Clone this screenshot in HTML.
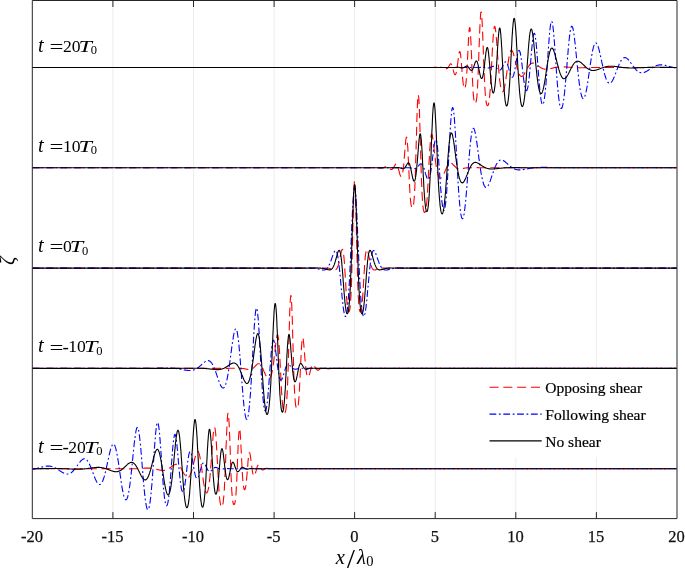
<!DOCTYPE html><html><head><meta charset="utf-8"><title>Wave focusing</title><style>
html,body{margin:0;padding:0;background:#fff}
#fig{position:relative;width:685px;height:568px;overflow:hidden;background:#fff}
</style></head><body><div id="fig">
<svg width="685" height="568" viewBox="0 0 685 568" style="position:absolute;left:0;top:0">
<rect width="685" height="568" fill="#fff"/>
<line x1="112.9" x2="112.9" y1="0.5" y2="518.6" stroke="#ededed" stroke-width="1"/>
<line x1="193.5" x2="193.5" y1="0.5" y2="518.6" stroke="#ededed" stroke-width="1"/>
<line x1="274.1" x2="274.1" y1="0.5" y2="518.6" stroke="#ededed" stroke-width="1"/>
<line x1="354.6" x2="354.6" y1="0.5" y2="518.6" stroke="#ededed" stroke-width="1"/>
<line x1="435.2" x2="435.2" y1="0.5" y2="518.6" stroke="#ededed" stroke-width="1"/>
<line x1="515.8" x2="515.8" y1="0.5" y2="518.6" stroke="#ededed" stroke-width="1"/>
<line x1="596.4" x2="596.4" y1="0.5" y2="518.6" stroke="#ededed" stroke-width="1"/>
<path d="M32.5,67.5L421.3,67.5L421.5,67.5L421.8,67.5L422.0,67.5L422.3,67.5L422.5,67.5L422.7,67.5L423.0,67.5L423.2,67.5L423.5,67.5L423.7,67.5L423.9,67.5L424.2,67.5L424.4,67.5L424.7,67.5L424.9,67.5L425.2,67.5L425.4,67.5L425.6,67.5L425.9,67.5L426.1,67.5L426.4,67.5L431.7,67.5L431.9,67.5L432.2,67.5L432.4,67.5L432.6,67.5L432.9,67.5L433.1,67.5L433.4,67.4L433.6,67.4L433.9,67.4L434.1,67.4L434.3,67.4L434.6,67.4L434.8,67.4L435.1,67.4L435.3,67.4L435.5,67.4L435.8,67.4L436.0,67.4L436.3,67.4L436.5,67.4L436.8,67.4L437.0,67.5L437.2,67.5L437.5,67.5L437.7,67.5L438.0,67.5L438.2,67.5L438.9,67.5L439.2,67.5L439.4,67.5L439.7,67.5L439.9,67.5L440.1,67.4L440.4,67.4L440.6,67.4L440.9,67.3L441.1,67.3L441.3,67.2L441.6,67.2L441.8,67.1L442.1,67.1L442.3,67.1L442.6,67.1L442.8,67.1L443.0,67.1L443.3,67.2L443.5,67.3L443.8,67.3L444.0,67.5L444.2,67.6L444.5,67.7L444.7,67.9L445.0,68.0L445.2,68.2L445.5,68.3L445.7,68.5L445.9,68.6L446.2,68.6L446.4,68.7L446.7,68.7L446.9,68.6L447.1,68.5L447.4,68.3L447.6,68.1L447.9,67.8L448.1,67.5L448.4,67.1L448.6,66.7L448.8,66.3L449.1,65.8L449.3,65.4L449.6,65.0L449.8,64.6L450.0,64.2L450.3,64.0L450.5,63.8L450.8,63.8L451.0,63.9L451.3,64.1L451.5,64.4L451.7,64.9L452.0,65.5L452.2,66.3L452.5,67.1L452.7,68.0L452.9,69.0L453.2,69.9L453.4,70.9L453.7,71.8L453.9,72.6L454.2,73.3L454.4,73.9L454.6,74.4L454.9,74.6L455.1,74.7L455.4,74.7L455.6,74.4L455.8,73.9L456.1,73.2L456.3,72.3L456.6,71.2L456.8,69.8L457.1,68.3L457.3,66.6L457.5,64.7L457.8,62.8L458.0,60.8L458.3,58.8L458.5,56.9L458.7,55.1L459.0,53.7L459.2,52.5L459.5,51.8L459.7,51.5L460.0,51.7L460.2,52.5L460.4,53.7L460.7,55.5L460.9,57.7L461.2,60.3L461.4,63.2L461.6,66.2L461.9,69.3L462.1,72.4L462.4,75.4L462.6,78.1L462.9,80.6L463.1,82.7L463.3,84.5L463.6,86.0L463.8,87.1L464.1,87.9L464.3,88.4L464.5,88.6L464.8,88.5L465.0,88.1L465.3,87.3L465.5,86.2L465.8,84.8L466.0,82.9L466.2,80.5L466.5,77.6L466.7,74.2L467.0,70.3L467.2,66.0L467.4,61.2L467.7,56.2L467.9,51.1L468.2,46.1L468.4,41.3L468.7,36.9L468.9,33.2L469.1,30.3L469.4,28.4L469.6,27.5L469.9,27.8L470.1,29.2L470.3,31.8L470.6,35.4L470.8,39.9L471.1,45.2L471.3,51.0L471.6,57.1L471.8,63.2L472.0,69.3L472.3,75.1L472.5,80.5L472.8,85.3L473.0,89.5L473.2,93.1L473.5,96.0L473.7,98.3L474.0,100.1L474.2,101.4L474.5,102.3L474.7,102.9L474.9,103.3L475.2,103.4L475.4,103.3L475.7,103.1L475.9,102.6L476.1,101.7L476.4,100.5L476.6,98.8L476.9,96.6L477.1,93.7L477.4,90.2L477.6,86.0L477.8,81.1L478.1,75.5L478.3,69.4L478.6,62.8L478.8,55.9L479.0,48.9L479.3,42.0L479.5,35.3L479.8,29.2L480.0,23.8L480.3,19.2L480.5,15.6L480.7,13.2L481.0,12.0L481.2,12.0L481.5,13.2L481.7,15.6L481.9,19.0L482.2,23.4L482.4,28.6L482.7,34.4L482.9,40.6L483.2,47.1L483.4,53.7L483.6,60.2L483.9,66.4L484.1,72.3L484.4,77.8L484.6,82.7L484.8,87.1L485.1,91.0L485.3,94.3L485.6,97.1L485.8,99.3L486.0,101.2L486.3,102.6L486.5,103.8L486.8,104.6L487.0,105.2L487.3,105.6L487.5,105.7L487.7,105.7L488.0,105.4L488.2,105.0L488.5,104.3L488.7,103.3L488.9,102.0L489.2,100.4L489.4,98.4L489.7,96.1L489.9,93.3L490.2,90.2L490.4,86.7L490.6,82.9L490.9,78.7L491.1,74.3L491.4,69.7L491.6,65.0L491.8,60.3L492.1,55.5L492.3,50.9L492.6,46.5L492.8,42.4L493.1,38.6L493.3,35.3L493.5,32.4L493.8,30.1L494.0,28.3L494.3,27.0L494.5,26.4L494.7,26.3L495.0,26.8L495.2,27.8L495.5,29.2L495.7,31.1L496.0,33.4L496.2,36.1L496.4,39.0L496.7,42.1L496.9,45.4L497.2,48.7L497.4,52.2L497.6,55.6L497.9,59.0L498.1,62.3L498.4,65.4L498.6,68.5L498.9,71.3L499.1,74.0L499.3,76.5L499.6,78.8L499.8,80.9L500.1,82.8L500.3,84.5L500.5,86.1L500.8,87.4L501.0,88.5L501.3,89.5L501.5,90.2L501.8,90.9L502.0,91.3L502.2,91.6L502.5,91.8L502.7,91.7L503.0,91.6L503.2,91.3L503.4,90.8L503.7,90.3L503.9,89.5L504.2,88.7L504.4,87.7L504.7,86.6L504.9,85.4L505.1,84.0L505.4,82.6L505.6,81.0L505.9,79.4L506.1,77.7L506.3,76.0L506.6,74.2L506.8,72.4L507.1,70.5L507.3,68.7L507.6,66.9L507.8,65.1L508.0,63.4L508.3,61.7L508.5,60.1L508.8,58.6L509.0,57.2L509.2,55.9L509.5,54.7L509.7,53.7L510.0,52.8L510.2,52.0L510.5,51.3L510.7,50.8L510.9,50.5L511.2,50.2L511.4,50.1L511.7,50.2L511.9,50.3L512.1,50.6L512.4,51.0L512.6,51.4L512.9,52.0L513.1,52.7L513.4,53.4L513.6,54.2L513.8,55.1L514.1,56.0L514.3,56.9L514.6,57.9L514.8,58.9L515.0,59.9L515.3,61.0L515.5,62.0L515.8,63.0L516.0,64.0L516.3,65.0L516.5,66.0L516.7,66.9L517.0,67.8L517.2,68.7L517.5,69.5L517.7,70.3L517.9,71.1L518.2,71.8L518.4,72.4L518.7,73.0L518.9,73.6L519.2,74.1L519.4,74.6L519.6,75.0L519.9,75.3L520.1,75.6L520.4,75.9L520.6,76.1L520.8,76.2L521.1,76.3L521.3,76.4L521.6,76.4L521.8,76.4L522.1,76.3L522.3,76.2L522.5,76.0L522.8,75.9L523.0,75.6L523.3,75.4L523.5,75.1L523.7,74.8L524.0,74.4L524.2,74.1L524.5,73.7L524.7,73.3L525.0,72.9L525.2,72.5L525.4,72.0L525.7,71.6L525.9,71.1L526.2,70.6L526.4,70.2L526.6,69.7L526.9,69.3L527.1,68.8L527.4,68.4L527.6,68.0L527.9,67.5L528.1,67.1L528.3,66.7L528.6,66.4L528.8,66.0L529.1,65.7L529.3,65.3L529.5,65.0L529.8,64.7L530.0,64.5L530.3,64.2L530.5,64.0L530.8,63.8L531.0,63.7L531.2,63.5L531.5,63.4L531.7,63.3L532.0,63.2L532.2,63.1L532.4,63.1L532.7,63.1L532.9,63.1L533.2,63.1L533.4,63.1L533.7,63.1L533.9,63.2L534.1,63.3L534.4,63.4L534.6,63.5L534.9,63.6L535.1,63.7L535.3,63.8L535.6,64.0L535.8,64.1L536.1,64.3L536.3,64.5L536.6,64.6L536.8,64.8L537.0,65.0L537.3,65.2L537.5,65.3L537.8,65.5L538.0,65.7L538.2,65.9L538.5,66.1L538.7,66.3L539.0,66.4L539.2,66.6L539.5,66.8L539.7,66.9L539.9,67.1L540.2,67.3L540.4,67.4L540.7,67.6L540.9,67.7L541.1,67.9L541.4,68.0L541.6,68.1L541.9,68.2L542.1,68.4L542.4,68.5L542.6,68.6L542.8,68.7L543.1,68.7L543.3,68.8L543.6,68.9L543.8,69.0L544.0,69.0L544.3,69.1L544.5,69.1L544.8,69.2L545.0,69.2L545.3,69.2L545.5,69.2L545.7,69.3L546.0,69.3L546.2,69.3L546.5,69.3L546.7,69.3L546.9,69.2L547.2,69.2L547.4,69.2L547.7,69.2L547.9,69.1L548.1,69.1L548.4,69.1L548.6,69.0L548.9,69.0L549.1,68.9L549.4,68.9L549.6,68.8L549.8,68.8L550.1,68.7L550.3,68.7L550.6,68.6L550.8,68.5L551.0,68.5L551.3,68.4L551.5,68.4L551.8,68.3L552.0,68.2L552.3,68.2L552.5,68.1L552.7,68.0L553.0,68.0L553.2,67.9L553.5,67.9L553.7,67.8L553.9,67.7L554.2,67.7L554.4,67.6L554.7,67.6L554.9,67.5L555.2,67.5L555.4,67.4L555.6,67.4L555.9,67.3L556.1,67.3L556.4,67.3L556.6,67.2L556.8,67.2L557.1,67.2L557.3,67.1L557.6,67.1L557.8,67.1L558.1,67.0L558.3,67.0L558.5,67.0L558.8,67.0L559.0,67.0L559.3,66.9L559.5,66.9L559.7,66.9L560.0,66.9L560.2,66.9L560.5,66.9L560.7,66.9L561.0,66.9L561.2,66.9L561.4,66.9L561.7,66.9L561.9,66.9L562.2,66.9L562.4,66.9L562.6,66.9L562.9,66.9L563.1,66.9L563.4,66.9L563.6,66.9L563.9,66.9L564.1,66.9L564.3,66.9L564.6,66.9L564.8,66.9L565.1,67.0L565.3,67.0L565.5,67.0L565.8,67.0L566.0,67.0L566.3,67.0L566.5,67.1L566.8,67.1L567.0,67.1L567.2,67.1L567.5,67.1L567.7,67.1L568.0,67.2L568.2,67.2L568.4,67.2L568.7,67.2L568.9,67.2L569.2,67.3L569.4,67.3L569.7,67.3L569.9,67.3L570.1,67.3L570.4,67.3L570.6,67.4L570.9,67.4L571.1,67.4L571.3,67.4L571.6,67.4L571.8,67.4L572.1,67.5L572.3,67.5L572.6,67.5L572.8,67.5L573.0,67.5L573.3,67.5L573.5,67.5L573.8,67.5L574.0,67.6L574.2,67.6L574.5,67.6L574.7,67.6L575.0,67.6L575.2,67.6L575.5,67.6L575.7,67.6L575.9,67.6L576.2,67.6L576.4,67.6L576.7,67.6L576.9,67.6L577.1,67.6L577.4,67.7L577.6,67.7L577.9,67.7L578.1,67.7L578.4,67.7L578.6,67.7L578.8,67.7L579.1,67.7L579.3,67.7L579.6,67.7L579.8,67.7L580.0,67.7L580.3,67.7L580.5,67.7L580.8,67.7L581.0,67.7L581.3,67.7L581.5,67.7L581.7,67.7L582.0,67.7L582.2,67.7L582.5,67.7L582.7,67.7L582.9,67.7L583.2,67.7L583.4,67.7L583.7,67.7L583.9,67.7L584.2,67.7L584.4,67.6L584.6,67.6L584.9,67.6L585.1,67.6L585.4,67.6L585.6,67.6L585.8,67.6L586.1,67.6L586.3,67.6L586.6,67.6L586.8,67.6L587.1,67.6L587.3,67.6L587.5,67.6L587.8,67.6L588.0,67.6L588.3,67.6L588.5,67.6L588.7,67.6L589.0,67.6L589.2,67.6L589.5,67.6L589.7,67.6L590.0,67.6L590.2,67.5L590.4,67.5L590.7,67.5L590.9,67.5L591.2,67.5L591.4,67.5L591.6,67.5L597.0,67.5L597.2,67.5L597.4,67.5L597.7,67.5L597.9,67.5L598.2,67.5L598.4,67.5L598.7,67.5L598.9,67.5L599.1,67.5L599.4,67.5L599.6,67.5L599.9,67.5L600.1,67.5L600.3,67.5L600.6,67.4L600.8,67.4L601.1,67.4L601.3,67.4L601.6,67.4L601.8,67.4L602.0,67.4L602.3,67.4L602.5,67.4L602.8,67.4L603.0,67.4L603.2,67.4L603.5,67.4L603.7,67.4L604.0,67.4L604.2,67.4L604.5,67.4L604.7,67.4L604.9,67.4L605.2,67.4L605.4,67.4L605.7,67.4L605.9,67.4L606.1,67.4L606.4,67.4L606.6,67.4L606.9,67.5L607.1,67.5L607.4,67.5L607.6,67.5L607.8,67.5L608.1,67.5L608.3,67.5L608.6,67.5L608.8,67.5L609.0,67.5L609.3,67.5L609.5,67.5L609.8,67.5L610.0,67.5L610.3,67.5L610.5,67.5L676.7,67.5" fill="none" stroke="#ff0000" stroke-width="1.1" stroke-dasharray="9.1 4.7" stroke-linejoin="round"/>
<path d="M32.5,167.8L358.0,167.8L358.2,167.8L358.5,167.8L358.7,167.8L358.9,167.8L359.2,167.8L359.4,167.8L359.7,167.8L359.9,167.7L360.2,167.7L360.4,167.7L360.6,167.7L360.9,167.7L361.1,167.7L361.4,167.7L361.6,167.7L361.8,167.7L362.1,167.7L362.3,167.8L362.6,167.8L362.8,167.8L363.1,167.8L363.3,167.8L363.5,167.8L363.8,167.8L364.0,167.8L365.7,167.8L366.0,167.8L366.2,167.8L366.4,167.8L366.7,167.8L366.9,167.8L367.2,167.8L367.4,167.8L367.6,167.8L367.9,167.8L368.1,167.8L368.4,167.8L368.6,167.8L368.9,167.8L369.1,167.8L369.3,167.8L369.6,167.8L369.8,167.8L370.3,167.8L370.5,167.8L370.8,167.8L371.0,167.8L371.3,167.8L371.5,167.7L371.8,167.7L372.0,167.7L372.2,167.7L372.5,167.7L372.7,167.7L373.0,167.7L373.2,167.7L373.4,167.7L373.7,167.6L373.9,167.6L374.2,167.6L374.4,167.6L374.7,167.6L374.9,167.6L375.1,167.6L375.4,167.6L375.6,167.6L375.9,167.6L376.1,167.6L376.3,167.7L376.6,167.7L376.8,167.7L377.1,167.7L377.3,167.8L377.6,167.8L377.8,167.8L378.0,167.9L378.3,167.9L378.5,167.9L378.8,168.0L379.0,168.0L379.2,168.1L379.5,168.1L379.7,168.1L380.0,168.2L380.2,168.2L380.5,168.2L380.7,168.2L380.9,168.2L381.2,168.2L381.4,168.2L381.7,168.2L381.9,168.1L382.1,168.1L382.4,168.0L382.6,167.9L382.9,167.9L383.1,167.8L383.4,167.7L383.6,167.6L383.8,167.5L384.1,167.4L384.3,167.3L384.6,167.1L384.8,167.0L385.0,167.0L385.3,166.9L385.5,166.8L385.8,166.8L386.0,166.7L386.3,166.7L386.5,166.7L386.7,166.8L387.0,166.8L387.2,166.9L387.5,167.0L387.7,167.1L387.9,167.3L388.2,167.5L388.4,167.7L388.7,167.9L388.9,168.1L389.2,168.3L389.4,168.5L389.6,168.7L389.9,168.9L390.1,169.1L390.4,169.2L390.6,169.4L390.8,169.5L391.1,169.5L391.3,169.5L391.6,169.5L391.8,169.5L392.1,169.3L392.3,169.2L392.5,169.0L392.8,168.7L393.0,168.4L393.3,168.1L393.5,167.7L393.7,167.3L394.0,166.9L394.2,166.4L394.5,166.0L394.7,165.6L395.0,165.2L395.2,164.8L395.4,164.5L395.7,164.2L395.9,164.1L396.2,164.0L396.4,164.1L396.6,164.2L396.9,164.5L397.1,164.9L397.4,165.4L397.6,166.0L397.9,166.7L398.1,167.6L398.3,168.4L398.6,169.4L398.8,170.3L399.1,171.3L399.3,172.2L399.5,173.1L399.8,174.0L400.0,174.7L400.3,175.3L400.5,175.9L400.8,176.2L401.0,176.5L401.2,176.5L401.5,176.4L401.7,176.1L402.0,175.6L402.2,174.9L402.4,173.9L402.7,172.7L402.9,171.2L403.2,169.5L403.4,167.4L403.7,165.1L403.9,162.6L404.1,159.8L404.4,156.8L404.6,153.7L404.9,150.6L405.1,147.6L405.3,144.7L405.6,142.1L405.8,140.0L406.1,138.3L406.3,137.3L406.6,137.1L406.8,137.6L407.0,138.9L407.3,141.1L407.5,144.1L407.8,147.8L408.0,152.1L408.2,156.9L408.5,162.1L408.7,167.5L409.0,173.0L409.2,178.3L409.5,183.4L409.7,188.0L409.9,192.2L410.2,195.9L410.4,199.0L410.7,201.6L410.9,203.6L411.1,205.1L411.4,206.2L411.6,207.0L411.9,207.5L412.1,207.7L412.4,207.8L412.6,207.6L412.8,207.3L413.1,206.7L413.3,205.8L413.6,204.5L413.8,202.7L414.0,200.2L414.3,197.1L414.5,193.1L414.8,188.3L415.0,182.7L415.3,176.2L415.5,168.9L415.7,160.9L416.0,152.5L416.2,143.8L416.5,135.1L416.7,126.6L416.9,118.6L417.2,111.4L417.4,105.3L417.7,100.4L417.9,96.9L418.2,95.1L418.4,94.9L418.6,96.3L418.9,99.3L419.1,103.8L419.4,109.6L419.6,116.5L419.8,124.2L420.1,132.5L420.3,141.2L420.6,149.9L420.8,158.4L421.0,166.6L421.3,174.3L421.5,181.2L421.8,187.4L422.0,192.8L422.3,197.4L422.5,201.2L422.7,204.2L423.0,206.6L423.2,208.5L423.5,209.9L423.7,210.9L423.9,211.6L424.2,212.1L424.4,212.3L424.7,212.4L424.9,212.3L425.2,212.1L425.4,211.6L425.6,210.8L425.9,209.8L426.1,208.4L426.4,206.6L426.6,204.4L426.8,201.7L427.1,198.7L427.3,195.2L427.6,191.3L427.8,187.0L428.1,182.5L428.3,177.8L428.5,172.9L428.8,168.1L429.0,163.3L429.3,158.6L429.5,154.2L429.7,150.1L430.0,146.4L430.2,143.2L430.5,140.4L430.7,138.1L431.0,136.4L431.2,135.1L431.4,134.4L431.7,134.2L431.9,134.4L432.2,135.0L432.4,136.0L432.6,137.3L432.9,138.8L433.1,140.6L433.4,142.5L433.6,144.6L433.9,146.7L434.1,148.9L434.3,151.1L434.6,153.3L434.8,155.4L435.1,157.5L435.3,159.5L435.5,161.4L435.8,163.2L436.0,164.9L436.3,166.5L436.5,167.9L436.8,169.3L437.0,170.5L437.2,171.7L437.5,172.7L437.7,173.7L438.0,174.5L438.2,175.2L438.4,175.9L438.7,176.4L438.9,176.9L439.2,177.3L439.4,177.6L439.7,177.9L439.9,178.0L440.1,178.1L440.4,178.2L440.6,178.2L440.9,178.1L441.1,178.0L441.3,177.8L441.6,177.6L441.8,177.4L442.1,177.1L442.3,176.7L442.6,176.3L442.8,175.9L443.0,175.5L443.3,175.1L443.5,174.6L443.8,174.1L444.0,173.5L444.2,173.0L444.5,172.5L444.7,171.9L445.0,171.3L445.2,170.8L445.5,170.2L445.7,169.6L445.9,169.1L446.2,168.5L446.4,168.0L446.7,167.5L446.9,167.0L447.1,166.5L447.4,166.0L447.6,165.6L447.9,165.2L448.1,164.8L448.4,164.5L448.6,164.2L448.8,163.9L449.1,163.7L449.3,163.5L449.6,163.3L449.8,163.2L450.0,163.1L450.3,163.1L450.5,163.1L450.8,163.1L451.0,163.1L451.3,163.2L451.5,163.3L451.7,163.5L452.0,163.6L452.2,163.8L452.5,164.0L452.7,164.2L452.9,164.5L453.2,164.7L453.4,165.0L453.7,165.2L453.9,165.5L454.2,165.7L454.4,166.0L454.6,166.2L454.9,166.5L455.1,166.7L455.4,167.0L455.6,167.2L455.8,167.4L456.1,167.6L456.3,167.8L456.6,168.0L456.8,168.1L457.1,168.3L457.3,168.4L457.5,168.5L457.8,168.6L458.0,168.7L458.3,168.8L458.5,168.9L458.7,168.9L459.0,169.0L459.2,169.0L459.5,169.0L459.7,169.0L460.0,169.0L460.2,169.0L460.4,169.0L460.7,169.0L460.9,168.9L461.2,168.9L461.4,168.8L461.6,168.8L461.9,168.7L462.1,168.7L462.4,168.6L462.6,168.6L462.9,168.5L463.1,168.5L463.3,168.4L463.6,168.4L463.8,168.3L464.1,168.3L464.3,168.2L464.5,168.2L464.8,168.1L465.0,168.1L465.3,168.0L465.5,168.0L465.8,168.0L466.0,167.9L466.2,167.9L466.5,167.9L466.7,167.9L467.0,167.8L467.2,167.8L467.4,167.8L467.7,167.8L467.9,167.8L468.2,167.8L468.4,167.8L468.7,167.8L468.9,167.7L469.1,167.7L469.4,167.7L469.6,167.7L469.9,167.7L470.1,167.7L470.3,167.7L470.6,167.7L470.8,167.7L471.1,167.7L471.3,167.7L471.6,167.7L471.8,167.7L472.0,167.7L472.3,167.6L472.5,167.6L472.8,167.6L473.0,167.6L473.2,167.6L473.5,167.6L473.7,167.6L474.0,167.6L474.2,167.6L474.5,167.6L474.7,167.6L474.9,167.6L475.2,167.6L475.4,167.6L475.7,167.6L475.9,167.6L476.1,167.6L476.4,167.6L476.6,167.6L476.9,167.6L477.1,167.6L477.4,167.6L477.6,167.6L477.8,167.6L478.1,167.6L478.3,167.6L478.6,167.7L478.8,167.7L479.0,167.7L479.3,167.7L479.5,167.7L479.8,167.7L480.0,167.7L480.3,167.7L480.5,167.7L480.7,167.8L481.0,167.8L481.2,167.8L481.5,167.8L481.7,167.8L676.7,167.8" fill="none" stroke="#ff0000" stroke-width="1.1" stroke-dasharray="9.1 4.7" stroke-linejoin="round"/>
<path d="M32.5,268.1L310.1,268.1L310.4,268.1L310.6,268.1L310.9,268.1L311.1,268.1L311.3,268.1L311.6,268.1L311.8,268.1L312.1,268.1L312.3,268.1L312.6,268.1L312.8,268.1L313.0,268.1L313.3,268.1L313.5,268.1L313.8,268.1L314.0,268.1L314.2,268.1L314.5,268.0L314.7,268.0L315.0,268.0L315.2,268.0L315.5,268.0L315.7,268.0L315.9,268.0L316.2,268.0L316.4,268.0L316.7,268.0L316.9,268.0L317.1,268.0L317.4,268.0L317.6,268.0L317.9,268.0L318.1,268.0L318.4,268.0L318.6,268.0L318.8,268.0L319.1,268.0L319.3,268.0L319.6,268.0L319.8,268.0L320.0,268.0L320.3,268.0L320.5,268.0L320.8,268.0L321.0,268.0L321.3,268.0L321.5,268.0L321.7,268.0L322.0,268.0L322.2,268.0L322.5,268.0L322.7,268.0L322.9,268.0L323.2,268.0L323.4,268.0L323.7,268.0L323.9,268.0L324.2,268.0L324.4,268.0L324.6,268.0L324.9,268.0L325.1,268.0L325.4,268.0L325.6,268.0L325.8,268.0L326.1,268.0L326.3,268.0L326.6,268.0L326.8,268.0L327.1,268.0L327.3,268.1L327.5,268.1L327.8,268.1L328.0,268.1L328.3,268.1L328.5,268.2L328.7,268.2L329.0,268.3L329.2,268.3L329.5,268.4L329.7,268.4L330.0,268.5L330.2,268.5L330.4,268.6L330.7,268.7L330.9,268.8L331.2,268.8L331.4,268.9L331.6,269.0L331.9,269.1L332.1,269.2L332.4,269.3L332.6,269.4L332.9,269.5L333.1,269.6L333.3,269.7L333.6,269.8L333.8,269.9L334.1,269.9L334.3,270.0L334.5,270.0L334.8,270.0L335.0,270.0L335.3,269.9L335.5,269.8L335.8,269.7L336.0,269.5L336.2,269.3L336.5,269.0L336.7,268.7L337.0,268.3L337.2,267.9L337.4,267.4L337.7,266.8L337.9,266.1L338.2,265.4L338.4,264.6L338.7,263.8L338.9,262.8L339.1,261.8L339.4,260.7L339.6,259.6L339.9,258.5L340.1,257.3L340.3,256.1L340.6,254.9L340.8,253.7L341.1,252.7L341.3,251.7L341.6,250.8L341.8,250.1L342.0,249.6L342.3,249.4L342.5,249.4L342.8,249.8L343.0,250.6L343.2,251.7L343.5,253.3L343.7,255.2L344.0,257.6L344.2,260.4L344.5,263.6L344.7,267.1L344.9,270.9L345.2,274.9L345.4,279.0L345.7,283.1L345.9,287.2L346.1,291.2L346.4,294.9L346.6,298.3L346.9,301.4L347.1,304.0L347.4,306.3L347.6,308.1L347.8,309.6L348.1,310.6L348.3,311.3L348.6,311.8L348.8,311.9L349.0,311.8L349.3,311.4L349.5,310.7L349.8,309.7L350.0,308.2L350.3,306.1L350.5,303.4L350.7,299.8L351.0,295.3L351.2,289.8L351.5,283.3L351.7,275.6L351.9,267.0L352.2,257.4L352.4,247.3L352.7,236.7L352.9,226.0L353.2,215.7L353.4,206.0L353.6,197.5L353.9,190.4L354.1,185.2L354.4,181.9L354.6,180.8L354.8,181.9L355.1,185.2L355.3,190.4L355.6,197.5L355.8,206.0L356.0,215.7L356.3,226.0L356.5,236.7L356.8,247.3L357.0,257.4L357.3,267.0L357.5,275.6L357.7,283.3L358.0,289.8L358.2,295.3L358.5,299.8L358.7,303.4L358.9,306.1L359.2,308.2L359.4,309.7L359.7,310.7L359.9,311.4L360.2,311.8L360.4,311.9L360.6,311.8L360.9,311.3L361.1,310.6L361.4,309.6L361.6,308.1L361.8,306.3L362.1,304.0L362.3,301.4L362.6,298.3L362.8,294.9L363.1,291.2L363.3,287.2L363.5,283.1L363.8,279.0L364.0,274.9L364.3,270.9L364.5,267.1L364.7,263.6L365.0,260.4L365.2,257.6L365.5,255.2L365.7,253.3L366.0,251.7L366.2,250.6L366.4,249.8L366.7,249.4L366.9,249.4L367.2,249.6L367.4,250.1L367.6,250.8L367.9,251.7L368.1,252.7L368.4,253.7L368.6,254.9L368.9,256.1L369.1,257.3L369.3,258.5L369.6,259.6L369.8,260.7L370.1,261.8L370.3,262.8L370.5,263.8L370.8,264.6L371.0,265.4L371.3,266.1L371.5,266.8L371.8,267.4L372.0,267.9L372.2,268.3L372.5,268.7L372.7,269.0L373.0,269.3L373.2,269.5L373.4,269.7L373.7,269.8L373.9,269.9L374.2,270.0L374.4,270.0L374.7,270.0L374.9,270.0L375.1,269.9L375.4,269.9L375.6,269.8L375.9,269.7L376.1,269.6L376.3,269.5L376.6,269.4L376.8,269.3L377.1,269.2L377.3,269.1L377.6,269.0L377.8,268.9L378.0,268.8L378.3,268.8L378.5,268.7L378.8,268.6L379.0,268.5L379.2,268.5L379.5,268.4L379.7,268.4L380.0,268.3L380.2,268.3L380.5,268.2L380.7,268.2L380.9,268.1L381.2,268.1L381.4,268.1L381.7,268.1L381.9,268.1L382.1,268.0L382.4,268.0L382.6,268.0L382.9,268.0L383.1,268.0L383.4,268.0L383.6,268.0L383.8,268.0L384.1,268.0L384.3,268.0L384.6,268.0L384.8,268.0L385.0,268.0L385.3,268.0L385.5,268.0L385.8,268.0L386.0,268.0L386.3,268.0L386.5,268.0L386.7,268.0L387.0,268.0L387.2,268.0L387.5,268.0L387.7,268.0L387.9,268.0L388.2,268.0L388.4,268.0L388.7,268.0L388.9,268.0L389.2,268.0L389.4,268.0L389.6,268.0L389.9,268.0L390.1,268.0L390.4,268.0L390.6,268.0L390.8,268.0L391.1,268.0L391.3,268.0L391.6,268.0L391.8,268.0L392.1,268.0L392.3,268.0L392.5,268.0L392.8,268.0L393.0,268.0L393.3,268.0L393.5,268.0L393.7,268.0L394.0,268.0L394.2,268.0L394.5,268.0L394.7,268.0L395.0,268.1L395.2,268.1L395.4,268.1L395.7,268.1L395.9,268.1L396.2,268.1L396.4,268.1L396.6,268.1L396.9,268.1L397.1,268.1L397.4,268.1L397.6,268.1L397.9,268.1L398.1,268.1L398.3,268.1L398.6,268.1L398.8,268.1L399.1,268.1L676.7,268.1" fill="none" stroke="#ff0000" stroke-width="1.1" stroke-dasharray="9.1 4.7" stroke-linejoin="round"/>
<path d="M32.5,368.4L227.5,368.4L227.7,368.4L228.0,368.4L228.2,368.4L228.5,368.4L228.7,368.3L228.9,368.3L229.2,368.3L229.4,368.3L229.7,368.3L229.9,368.3L230.2,368.3L230.4,368.3L230.6,368.3L230.9,368.2L231.1,368.2L231.4,368.2L231.6,368.2L231.8,368.2L232.1,368.2L232.3,368.2L232.6,368.2L232.8,368.2L233.1,368.2L233.3,368.2L233.5,368.2L233.8,368.2L234.0,368.2L234.3,368.2L234.5,368.2L234.7,368.2L235.0,368.2L235.2,368.2L235.5,368.2L235.7,368.2L236.0,368.2L236.2,368.2L236.4,368.2L236.7,368.2L236.9,368.2L237.2,368.3L237.4,368.3L237.6,368.3L237.9,368.3L238.1,368.3L238.4,368.3L238.6,368.3L238.9,368.3L239.1,368.3L239.3,368.3L239.6,368.3L239.8,368.3L240.1,368.3L240.3,368.3L240.5,368.4L240.8,368.4L241.0,368.4L241.3,368.4L241.5,368.4L241.8,368.4L242.0,368.4L242.2,368.4L242.5,368.5L242.7,368.5L243.0,368.5L243.2,368.5L243.4,368.6L243.7,368.6L243.9,368.6L244.2,368.7L244.4,368.7L244.7,368.8L244.9,368.8L245.1,368.9L245.4,368.9L245.6,369.0L245.9,369.0L246.1,369.1L246.3,369.1L246.6,369.2L246.8,369.2L247.1,369.3L247.3,369.3L247.6,369.4L247.8,369.4L248.0,369.5L248.3,369.5L248.5,369.6L248.8,369.6L249.0,369.6L249.2,369.6L249.5,369.6L249.7,369.6L250.0,369.6L250.2,369.6L250.5,369.5L250.7,369.5L250.9,369.4L251.2,369.3L251.4,369.2L251.7,369.1L251.9,369.0L252.1,368.9L252.4,368.7L252.6,368.6L252.9,368.4L253.1,368.2L253.4,368.0L253.6,367.8L253.8,367.6L254.1,367.3L254.3,367.1L254.6,366.8L254.8,366.6L255.0,366.3L255.3,366.1L255.5,365.8L255.8,365.6L256.0,365.3L256.3,365.1L256.5,364.8L256.7,364.6L257.0,364.4L257.2,364.2L257.5,364.1L257.7,363.9L257.9,363.8L258.2,363.7L258.4,363.7L258.7,363.7L258.9,363.7L259.2,363.7L259.4,363.8L259.6,363.9L259.9,364.1L260.1,364.3L260.4,364.5L260.6,364.8L260.8,365.1L261.1,365.4L261.3,365.8L261.6,366.2L261.8,366.6L262.1,367.1L262.3,367.6L262.5,368.1L262.8,368.6L263.0,369.1L263.3,369.7L263.5,370.2L263.7,370.8L264.0,371.4L264.2,371.9L264.5,372.5L264.7,373.1L265.0,373.6L265.2,374.1L265.4,374.7L265.7,375.2L265.9,375.7L266.2,376.1L266.4,376.5L266.6,376.9L266.9,377.3L267.1,377.7L267.4,378.0L267.6,378.2L267.9,378.4L268.1,378.6L268.3,378.7L268.6,378.8L268.8,378.8L269.1,378.7L269.3,378.6L269.5,378.5L269.8,378.2L270.0,377.9L270.3,377.5L270.5,377.0L270.8,376.5L271.0,375.8L271.2,375.1L271.5,374.3L271.7,373.3L272.0,372.3L272.2,371.1L272.4,369.9L272.7,368.5L272.9,367.1L273.2,365.5L273.4,363.8L273.7,362.0L273.9,360.1L274.1,358.1L274.4,356.0L274.6,353.9L274.9,351.7L275.1,349.5L275.3,347.3L275.6,345.2L275.8,343.1L276.1,341.2L276.3,339.4L276.6,337.9L276.8,336.6L277.0,335.6L277.3,335.0L277.5,334.8L277.8,335.0L278.0,335.7L278.2,337.0L278.5,338.7L278.7,341.0L279.0,343.8L279.2,347.0L279.5,350.7L279.7,354.8L279.9,359.2L280.2,363.9L280.4,368.7L280.7,373.5L280.9,378.4L281.1,383.1L281.4,387.6L281.6,391.9L281.9,395.8L282.1,399.3L282.4,402.3L282.6,405.0L282.8,407.2L283.1,409.0L283.3,410.4L283.6,411.4L283.8,412.2L284.0,412.7L284.3,412.9L284.5,413.0L284.8,412.9L285.0,412.7L285.3,412.2L285.5,411.5L285.7,410.5L286.0,409.1L286.2,407.2L286.5,404.8L286.7,401.8L286.9,398.0L287.2,393.4L287.4,388.0L287.7,381.8L287.9,374.9L288.2,367.2L288.4,359.0L288.6,350.5L288.9,341.8L289.1,333.1L289.4,324.8L289.6,317.1L289.8,310.2L290.1,304.4L290.3,299.9L290.6,296.9L290.8,295.5L291.0,295.7L291.3,297.5L291.5,301.0L291.8,305.9L292.0,312.0L292.3,319.2L292.5,327.2L292.7,335.7L293.0,344.4L293.2,353.1L293.5,361.5L293.7,369.5L293.9,376.8L294.2,383.3L294.4,388.9L294.7,393.7L294.9,397.7L295.2,400.8L295.4,403.3L295.6,405.1L295.9,406.4L296.1,407.3L296.4,407.9L296.6,408.2L296.8,408.4L297.1,408.3L297.3,408.1L297.6,407.6L297.8,406.8L298.1,405.7L298.3,404.2L298.5,402.2L298.8,399.6L299.0,396.5L299.3,392.8L299.5,388.6L299.7,384.0L300.0,378.9L300.2,373.6L300.5,368.1L300.7,362.7L301.0,357.5L301.2,352.7L301.4,348.4L301.7,344.7L301.9,341.7L302.2,339.5L302.4,338.2L302.6,337.7L302.9,337.9L303.1,338.9L303.4,340.6L303.6,342.7L303.9,345.3L304.1,348.2L304.3,351.2L304.6,354.3L304.8,357.4L305.1,360.4L305.3,363.2L305.5,365.7L305.8,368.0L306.0,370.1L306.3,371.8L306.5,373.3L306.8,374.5L307.0,375.5L307.2,376.2L307.5,376.7L307.7,377.0L308.0,377.1L308.2,377.1L308.4,376.8L308.7,376.5L308.9,375.9L309.2,375.3L309.4,374.6L309.7,373.7L309.9,372.8L310.1,371.9L310.4,370.9L310.6,370.0L310.9,369.0L311.1,368.2L311.3,367.3L311.6,366.6L311.8,366.0L312.1,365.5L312.3,365.1L312.6,364.8L312.8,364.7L313.0,364.6L313.3,364.7L313.5,364.8L313.8,365.1L314.0,365.4L314.2,365.8L314.5,366.2L314.7,366.6L315.0,367.0L315.2,367.5L315.5,367.9L315.7,368.3L315.9,368.7L316.2,369.0L316.4,369.3L316.7,369.6L316.9,369.8L317.1,369.9L317.4,370.1L317.6,370.1L317.9,370.1L318.1,370.1L318.4,370.1L318.6,370.0L318.8,369.8L319.1,369.7L319.3,369.5L319.6,369.3L319.8,369.1L320.0,368.9L320.3,368.7L320.5,368.5L320.8,368.3L321.0,368.1L321.3,367.9L321.5,367.7L321.7,367.6L322.0,367.5L322.2,367.4L322.5,367.4L322.7,367.3L322.9,367.3L323.2,367.3L323.4,367.4L323.7,367.4L323.9,367.5L324.2,367.6L324.4,367.6L324.6,367.7L324.9,367.9L325.1,368.0L325.4,368.1L325.6,368.2L325.8,368.3L326.1,368.4L326.3,368.5L326.6,368.5L326.8,368.6L327.1,368.7L327.3,368.7L327.5,368.8L327.8,368.8L328.0,368.8L328.3,368.8L328.5,368.8L328.7,368.8L329.0,368.8L329.2,368.8L329.5,368.7L329.7,368.7L330.0,368.7L330.2,368.6L330.4,368.6L330.7,368.5L330.9,368.5L331.2,368.5L331.4,368.4L331.6,368.4L331.9,368.4L332.1,368.3L332.4,368.3L332.6,368.3L332.9,368.3L333.1,368.2L333.3,368.2L333.6,368.2L333.8,368.2L334.1,368.2L334.3,368.2L334.5,368.2L334.8,368.2L335.0,368.2L335.3,368.2L335.5,368.2L335.8,368.3L336.0,368.3L336.2,368.3L336.5,368.3L336.7,368.3L337.0,368.3L337.2,368.3L337.4,368.3L337.7,368.3L337.9,368.4L338.2,368.4L338.4,368.4L338.7,368.4L338.9,368.4L339.4,368.4L339.6,368.4L339.9,368.4L340.1,368.4L340.3,368.4L340.6,368.4L340.8,368.4L341.1,368.4L341.3,368.4L341.6,368.4L341.8,368.4L342.0,368.4L342.3,368.4L342.5,368.4L342.8,368.4L343.0,368.4L343.2,368.4L343.5,368.4L345.2,368.4L345.4,368.4L345.7,368.4L345.9,368.4L346.1,368.4L346.4,368.4L346.6,368.4L346.9,368.4L347.1,368.3L347.4,368.3L347.6,368.3L347.8,368.3L348.1,368.3L348.3,368.3L348.6,368.3L348.8,368.3L349.0,368.3L349.3,368.3L349.5,368.4L349.8,368.4L350.0,368.4L350.3,368.4L350.5,368.4L350.7,368.4L351.0,368.4L351.2,368.4L676.7,368.4" fill="none" stroke="#ff0000" stroke-width="1.1" stroke-dasharray="9.1 4.7" stroke-linejoin="round"/>
<path d="M32.5,468.7L98.7,468.7L98.9,468.7L99.2,468.7L99.4,468.7L99.7,468.7L99.9,468.7L100.2,468.7L100.4,468.7L100.6,468.7L100.9,468.7L101.1,468.7L101.4,468.7L101.6,468.7L101.8,468.7L102.1,468.7L102.3,468.7L102.6,468.6L102.8,468.6L103.1,468.6L103.3,468.6L103.5,468.6L103.8,468.6L104.0,468.6L104.3,468.6L104.5,468.6L104.7,468.6L105.0,468.6L105.2,468.6L105.5,468.6L105.7,468.6L106.0,468.6L106.2,468.6L106.4,468.6L106.7,468.6L106.9,468.6L107.2,468.6L107.4,468.6L107.6,468.6L107.9,468.6L108.1,468.6L108.4,468.6L108.6,468.6L108.9,468.7L109.1,468.7L109.3,468.7L109.6,468.7L109.8,468.7L110.1,468.7L110.3,468.7L110.5,468.7L110.8,468.7L111.0,468.7L111.3,468.7L111.5,468.7L111.8,468.7L112.0,468.7L112.2,468.7L117.6,468.7L117.8,468.7L118.0,468.7L118.3,468.7L118.5,468.7L118.8,468.7L119.0,468.7L119.2,468.8L119.5,468.8L119.7,468.8L120.0,468.8L120.2,468.8L120.5,468.8L120.7,468.8L120.9,468.8L121.2,468.8L121.4,468.8L121.7,468.8L121.9,468.8L122.1,468.8L122.4,468.8L122.6,468.8L122.9,468.8L123.1,468.8L123.4,468.8L123.6,468.8L123.8,468.8L124.1,468.8L124.3,468.8L124.6,468.8L124.8,468.8L125.0,468.9L125.3,468.9L125.5,468.9L125.8,468.9L126.0,468.9L126.3,468.9L126.5,468.9L126.7,468.9L127.0,468.9L127.2,468.9L127.5,468.9L127.7,468.9L127.9,468.9L128.2,468.9L128.4,468.9L128.7,468.9L128.9,468.9L129.2,468.9L129.4,468.9L129.6,468.9L129.9,468.9L130.1,468.9L130.4,468.9L130.6,468.9L130.8,468.9L131.1,468.9L131.3,468.9L131.6,468.9L131.8,468.9L132.1,468.8L132.3,468.8L132.5,468.8L132.8,468.8L133.0,468.8L133.3,468.8L133.5,468.8L133.7,468.8L134.0,468.8L134.2,468.8L134.5,468.8L134.7,468.8L135.0,468.8L135.2,468.8L135.4,468.7L135.7,468.7L135.9,468.7L136.2,468.7L136.4,468.7L136.6,468.7L136.9,468.7L137.1,468.7L137.4,468.6L137.6,468.6L137.9,468.6L138.1,468.6L138.3,468.6L138.6,468.6L138.8,468.5L139.1,468.5L139.3,468.5L139.5,468.5L139.8,468.5L140.0,468.5L140.3,468.4L140.5,468.4L140.8,468.4L141.0,468.4L141.2,468.4L141.5,468.3L141.7,468.3L142.0,468.3L142.2,468.3L142.4,468.3L142.7,468.3L142.9,468.2L143.2,468.2L143.4,468.2L143.7,468.2L143.9,468.2L144.1,468.2L144.4,468.1L144.6,468.1L144.9,468.1L145.1,468.1L145.3,468.1L145.6,468.1L145.8,468.1L146.1,468.1L146.3,468.1L146.6,468.1L146.8,468.1L147.0,468.1L147.3,468.1L147.5,468.1L147.8,468.1L148.0,468.1L148.2,468.1L148.5,468.1L148.7,468.1L149.0,468.1L149.2,468.1L149.5,468.1L149.7,468.1L149.9,468.1L150.2,468.2L150.4,468.2L150.7,468.2L150.9,468.2L151.1,468.2L151.4,468.3L151.6,468.3L151.9,468.3L152.1,468.4L152.4,468.4L152.6,468.4L152.8,468.5L153.1,468.5L153.3,468.5L153.6,468.6L153.8,468.6L154.0,468.7L154.3,468.7L154.5,468.8L154.8,468.8L155.0,468.9L155.3,468.9L155.5,469.0L155.7,469.1L156.0,469.1L156.2,469.2L156.5,469.2L156.7,469.3L156.9,469.4L157.2,469.4L157.4,469.5L157.7,469.6L157.9,469.6L158.2,469.7L158.4,469.7L158.6,469.8L158.9,469.9L159.1,469.9L159.4,470.0L159.6,470.0L159.8,470.1L160.1,470.1L160.3,470.2L160.6,470.2L160.8,470.3L161.1,470.3L161.3,470.3L161.5,470.4L161.8,470.4L162.0,470.4L162.3,470.4L162.5,470.5L162.7,470.5L163.0,470.5L163.2,470.5L163.5,470.5L163.7,470.4L163.9,470.4L164.2,470.4L164.4,470.4L164.7,470.3L164.9,470.3L165.2,470.2L165.4,470.2L165.6,470.1L165.9,470.0L166.1,469.9L166.4,469.9L166.6,469.8L166.8,469.7L167.1,469.6L167.3,469.4L167.6,469.3L167.8,469.2L168.1,469.1L168.3,468.9L168.5,468.8L168.8,468.6L169.0,468.5L169.3,468.3L169.5,468.1L169.7,468.0L170.0,467.8L170.2,467.6L170.5,467.5L170.7,467.3L171.0,467.1L171.2,466.9L171.4,466.7L171.7,466.5L171.9,466.4L172.2,466.2L172.4,466.0L172.6,465.8L172.9,465.7L173.1,465.5L173.4,465.3L173.6,465.2L173.9,465.0L174.1,464.9L174.3,464.8L174.6,464.7L174.8,464.6L175.1,464.5L175.3,464.4L175.5,464.3L175.8,464.3L176.0,464.3L176.3,464.3L176.5,464.3L176.8,464.3L177.0,464.3L177.2,464.4L177.5,464.5L177.7,464.6L178.0,464.7L178.2,464.9L178.4,465.0L178.7,465.2L178.9,465.4L179.2,465.7L179.4,465.9L179.7,466.2L179.9,466.5L180.1,466.9L180.4,467.2L180.6,467.6L180.9,467.9L181.1,468.3L181.3,468.7L181.6,469.2L181.8,469.6L182.1,470.0L182.3,470.5L182.6,470.9L182.8,471.4L183.0,471.8L183.3,472.3L183.5,472.8L183.8,473.2L184.0,473.7L184.2,474.1L184.5,474.5L184.7,474.9L185.0,475.3L185.2,475.6L185.5,476.0L185.7,476.3L185.9,476.6L186.2,476.8L186.4,477.1L186.7,477.2L186.9,477.4L187.1,477.5L187.4,477.6L187.6,477.6L187.9,477.6L188.1,477.5L188.4,477.4L188.6,477.3L188.8,477.1L189.1,476.8L189.3,476.5L189.6,476.2L189.8,475.8L190.0,475.3L190.3,474.8L190.5,474.2L190.8,473.6L191.0,473.0L191.3,472.3L191.5,471.5L191.7,470.7L192.0,469.9L192.2,469.0L192.5,468.1L192.7,467.2L192.9,466.2L193.2,465.2L193.4,464.2L193.7,463.2L193.9,462.2L194.2,461.1L194.4,460.1L194.6,459.1L194.9,458.1L195.1,457.2L195.4,456.3L195.6,455.4L195.8,454.6L196.1,453.9L196.3,453.2L196.6,452.6L196.8,452.2L197.1,451.8L197.3,451.5L197.5,451.4L197.8,451.3L198.0,451.4L198.3,451.7L198.5,452.0L198.7,452.5L199.0,453.2L199.2,454.0L199.5,454.9L199.7,455.9L200.0,457.1L200.2,458.4L200.4,459.8L200.7,461.3L200.9,462.9L201.2,464.6L201.4,466.3L201.6,468.1L201.9,469.9L202.1,471.7L202.4,473.6L202.6,475.4L202.9,477.2L203.1,478.9L203.3,480.6L203.6,482.2L203.8,483.8L204.1,485.2L204.3,486.6L204.5,487.8L204.8,488.9L205.0,489.9L205.3,490.7L205.5,491.5L205.8,492.0L206.0,492.5L206.2,492.8L206.5,492.9L206.7,493.0L207.0,492.8L207.2,492.5L207.4,492.1L207.7,491.4L207.9,490.7L208.2,489.7L208.4,488.6L208.7,487.3L208.9,485.7L209.1,484.0L209.4,482.1L209.6,480.0L209.9,477.7L210.1,475.2L210.3,472.5L210.6,469.7L210.8,466.6L211.1,463.5L211.3,460.2L211.6,456.8L211.8,453.4L212.0,449.9L212.3,446.6L212.5,443.3L212.8,440.2L213.0,437.3L213.2,434.6L213.5,432.3L213.7,430.4L214.0,429.0L214.2,428.0L214.5,427.5L214.7,427.6L214.9,428.2L215.2,429.5L215.4,431.3L215.7,433.6L215.9,436.5L216.1,439.8L216.4,443.6L216.6,447.7L216.9,452.1L217.1,456.7L217.4,461.5L217.6,466.2L217.8,470.9L218.1,475.5L218.3,479.9L218.6,484.1L218.8,487.9L219.0,491.4L219.3,494.5L219.5,497.3L219.8,499.6L220.0,501.6L220.3,503.2L220.5,504.5L220.7,505.5L221.0,506.2L221.2,506.6L221.5,506.9L221.7,506.9L221.9,506.8L222.2,506.4L222.4,505.8L222.7,505.0L222.9,503.8L223.2,502.4L223.4,500.5L223.6,498.3L223.9,495.5L224.1,492.2L224.4,488.3L224.6,483.9L224.8,479.0L225.1,473.5L225.3,467.6L225.6,461.4L225.8,454.9L226.0,448.3L226.3,441.8L226.5,435.6L226.8,429.8L227.0,424.6L227.3,420.2L227.5,416.8L227.7,414.4L228.0,413.2L228.2,413.2L228.5,414.4L228.7,416.8L228.9,420.4L229.2,425.0L229.4,430.4L229.7,436.5L229.9,443.2L230.2,450.1L230.4,457.1L230.6,464.0L230.9,470.6L231.1,476.7L231.4,482.3L231.6,487.2L231.8,491.4L232.1,494.9L232.3,497.8L232.6,500.0L232.8,501.7L233.1,502.9L233.3,503.8L233.5,504.3L233.8,504.5L234.0,504.6L234.3,504.5L234.5,504.1L234.7,503.5L235.0,502.6L235.2,501.3L235.5,499.5L235.7,497.2L236.0,494.3L236.2,490.7L236.4,486.5L236.7,481.7L236.9,476.3L237.2,470.5L237.4,464.4L237.6,458.3L237.9,452.2L238.1,446.4L238.4,441.1L238.6,436.6L238.9,433.0L239.1,430.4L239.3,429.0L239.6,428.7L239.8,429.6L240.1,431.5L240.3,434.4L240.5,438.1L240.8,442.5L241.0,447.3L241.3,452.3L241.5,457.4L241.8,462.4L242.0,467.2L242.2,471.5L242.5,475.4L242.7,478.8L243.0,481.7L243.2,484.1L243.4,486.0L243.7,487.4L243.9,488.5L244.2,489.3L244.4,489.7L244.7,489.8L244.9,489.6L245.1,489.1L245.4,488.3L245.6,487.2L245.9,485.7L246.1,483.9L246.3,481.8L246.6,479.3L246.8,476.6L247.1,473.6L247.3,470.5L247.6,467.4L247.8,464.4L248.0,461.5L248.3,458.9L248.5,456.7L248.8,454.9L249.0,453.7L249.2,452.9L249.5,452.7L249.7,453.0L250.0,453.7L250.2,454.9L250.5,456.3L250.7,458.1L250.9,460.0L251.2,462.0L251.4,464.0L251.7,465.9L251.9,467.8L252.1,469.5L252.4,471.0L252.6,472.4L252.9,473.5L253.1,474.4L253.4,475.1L253.6,475.6L253.8,475.9L254.1,475.9L254.3,475.8L254.6,475.6L254.8,475.1L255.0,474.5L255.3,473.8L255.5,473.0L255.8,472.1L256.0,471.1L256.3,470.2L256.5,469.2L256.7,468.3L257.0,467.5L257.2,466.7L257.5,466.1L257.7,465.6L257.9,465.3L258.2,465.1L258.4,465.0L258.7,465.0L258.9,465.2L259.2,465.4L259.4,465.8L259.6,466.2L259.9,466.6L260.1,467.0L260.4,467.5L260.6,467.9L260.8,468.3L261.1,468.7L261.3,469.0L261.6,469.3L261.8,469.5L262.1,469.7L262.3,469.8L262.5,469.9L262.8,469.9L263.0,469.8L263.3,469.8L263.5,469.7L263.7,469.5L264.0,469.4L264.2,469.2L264.5,469.1L264.7,468.9L265.0,468.8L265.2,468.7L265.4,468.5L265.7,468.5L265.9,468.4L266.2,468.3L266.4,468.3L266.6,468.3L266.9,468.3L267.1,468.3L267.4,468.3L267.6,468.4L267.9,468.4L268.1,468.5L268.3,468.5L268.6,468.6L268.8,468.6L269.1,468.6L269.3,468.7L269.5,468.7L269.8,468.7L270.0,468.7L270.3,468.7L271.0,468.7L271.2,468.7L271.5,468.7L271.7,468.7L272.0,468.7L272.2,468.7L272.4,468.6L272.7,468.6L272.9,468.6L273.2,468.6L273.4,468.6L273.7,468.6L273.9,468.6L274.1,468.6L274.4,468.6L274.6,468.6L274.9,468.6L275.1,468.6L275.3,468.6L275.6,468.6L275.8,468.6L276.1,468.7L276.3,468.7L276.6,468.7L276.8,468.7L277.0,468.7L277.3,468.7L277.5,468.7L282.8,468.7L283.1,468.7L283.3,468.7L283.6,468.7L283.8,468.7L284.0,468.7L284.3,468.7L284.5,468.7L284.8,468.7L285.0,468.7L285.3,468.7L285.5,468.7L285.7,468.7L286.0,468.7L286.2,468.7L286.5,468.7L286.7,468.7L286.9,468.7L287.2,468.7L287.4,468.7L287.7,468.7L287.9,468.7L676.7,468.7" fill="none" stroke="#ff0000" stroke-width="1.1" stroke-dasharray="9.1 4.7" stroke-linejoin="round"/>
<path d="M32.5,67.5L476.1,67.5L476.4,67.5L476.6,67.5L476.9,67.5L477.1,67.5L477.4,67.5L477.6,67.5L477.8,67.5L478.1,67.5L478.3,67.5L478.6,67.5L478.8,67.5L479.0,67.5L479.3,67.5L479.5,67.5L479.8,67.5L480.0,67.5L480.3,67.4L480.5,67.4L480.7,67.4L481.0,67.4L481.2,67.4L481.5,67.4L481.7,67.3L481.9,67.3L482.2,67.3L482.4,67.3L482.7,67.3L482.9,67.3L483.2,67.3L483.4,67.3L483.6,67.3L483.9,67.3L484.1,67.4L484.4,67.4L484.6,67.4L484.8,67.5L485.1,67.5L485.3,67.6L485.6,67.6L485.8,67.7L486.0,67.7L486.3,67.8L486.5,67.8L486.8,67.9L487.0,67.9L487.3,67.9L487.5,68.0L487.7,68.0L488.0,68.0L488.2,68.0L488.5,68.0L488.7,68.0L488.9,67.9L489.2,67.9L489.4,67.8L489.7,67.7L489.9,67.7L490.2,67.6L490.4,67.5L490.6,67.4L490.9,67.2L491.1,67.1L491.4,67.0L491.6,66.9L491.8,66.8L492.1,66.6L492.3,66.5L492.6,66.4L492.8,66.4L493.1,66.3L493.3,66.3L493.5,66.2L493.8,66.2L494.0,66.3L494.3,66.3L494.5,66.4L494.7,66.5L495.0,66.6L495.2,66.8L495.5,66.9L495.7,67.1L496.0,67.4L496.2,67.6L496.4,67.8L496.7,68.1L496.9,68.4L497.2,68.6L497.4,68.9L497.6,69.1L497.9,69.4L498.1,69.6L498.4,69.8L498.6,69.9L498.9,70.1L499.1,70.2L499.3,70.2L499.6,70.2L499.8,70.2L500.1,70.1L500.3,70.0L500.5,69.8L500.8,69.5L501.0,69.3L501.3,68.9L501.5,68.6L501.8,68.2L502.0,67.7L502.2,67.2L502.5,66.7L502.7,66.2L503.0,65.7L503.2,65.2L503.4,64.7L503.7,64.2L503.9,63.7L504.2,63.2L504.4,62.9L504.7,62.5L504.9,62.2L505.1,62.0L505.4,61.9L505.6,61.8L505.9,61.8L506.1,62.0L506.3,62.2L506.6,62.5L506.8,62.9L507.1,63.3L507.3,63.9L507.6,64.5L507.8,65.3L508.0,66.0L508.3,66.9L508.5,67.7L508.8,68.6L509.0,69.5L509.2,70.4L509.5,71.3L509.7,72.2L510.0,73.0L510.2,73.8L510.5,74.6L510.7,75.2L510.9,75.8L511.2,76.3L511.4,76.7L511.7,77.0L511.9,77.2L512.1,77.3L512.4,77.3L512.6,77.1L512.9,76.8L513.1,76.4L513.4,75.8L513.6,75.2L513.8,74.4L514.1,73.5L514.3,72.4L514.6,71.3L514.8,70.1L515.0,68.8L515.3,67.4L515.5,66.0L515.8,64.5L516.0,63.1L516.3,61.6L516.5,60.1L516.7,58.6L517.0,57.2L517.2,55.9L517.5,54.7L517.7,53.6L517.9,52.6L518.2,51.8L518.4,51.2L518.7,50.7L518.9,50.5L519.2,50.4L519.4,50.6L519.6,51.0L519.9,51.6L520.1,52.5L520.4,53.5L520.6,54.7L520.8,56.1L521.1,57.7L521.3,59.4L521.6,61.3L521.8,63.2L522.1,65.3L522.3,67.3L522.5,69.5L522.8,71.6L523.0,73.6L523.3,75.7L523.5,77.7L523.7,79.6L524.0,81.3L524.2,83.0L524.5,84.5L524.7,85.9L525.0,87.1L525.2,88.2L525.4,89.1L525.7,89.8L525.9,90.3L526.2,90.6L526.4,90.7L526.6,90.6L526.9,90.3L527.1,89.8L527.4,89.1L527.6,88.2L527.9,87.1L528.1,85.8L528.3,84.3L528.6,82.6L528.8,80.7L529.1,78.7L529.3,76.5L529.5,74.1L529.8,71.6L530.0,69.0L530.3,66.2L530.5,63.4L530.8,60.6L531.0,57.7L531.2,54.9L531.5,52.1L531.7,49.3L532.0,46.7L532.2,44.2L532.4,42.0L532.7,39.9L532.9,38.0L533.2,36.4L533.4,35.1L533.7,34.1L533.9,33.5L534.1,33.2L534.4,33.2L534.6,33.6L534.9,34.3L535.1,35.4L535.3,36.8L535.6,38.5L535.8,40.5L536.1,42.8L536.3,45.3L536.6,48.1L536.8,51.0L537.0,54.1L537.3,57.3L537.5,60.5L537.8,63.9L538.0,67.2L538.2,70.5L538.5,73.8L538.7,77.0L539.0,80.1L539.2,83.0L539.5,85.8L539.7,88.5L539.9,91.0L540.2,93.3L540.4,95.4L540.7,97.3L540.9,99.0L541.1,100.4L541.4,101.7L541.6,102.7L541.9,103.5L542.1,104.1L542.4,104.5L542.6,104.6L542.8,104.5L543.1,104.2L543.3,103.7L543.6,102.9L543.8,101.9L544.0,100.7L544.3,99.3L544.5,97.7L544.8,95.8L545.0,93.7L545.3,91.4L545.5,88.9L545.7,86.2L546.0,83.4L546.2,80.3L546.5,77.1L546.7,73.8L546.9,70.4L547.2,66.8L547.4,63.3L547.7,59.6L547.9,56.0L548.1,52.4L548.4,48.8L548.6,45.4L548.9,42.1L549.1,38.9L549.4,35.9L549.6,33.1L549.8,30.5L550.1,28.3L550.3,26.3L550.6,24.6L550.8,23.3L551.0,22.3L551.3,21.6L551.5,21.3L551.8,21.4L552.0,21.8L552.3,22.6L552.5,23.7L552.7,25.2L553.0,26.9L553.2,29.0L553.5,31.3L553.7,33.9L553.9,36.6L554.2,39.6L554.4,42.8L554.7,46.0L554.9,49.4L555.2,52.9L555.4,56.4L555.6,59.9L555.9,63.4L556.1,66.9L556.4,70.4L556.6,73.7L556.8,77.0L557.1,80.2L557.3,83.2L557.6,86.1L557.8,88.9L558.1,91.4L558.3,93.9L558.5,96.1L558.8,98.2L559.0,100.0L559.3,101.7L559.5,103.2L559.7,104.6L560.0,105.7L560.2,106.6L560.5,107.4L560.7,107.9L561.0,108.3L561.2,108.5L561.4,108.5L561.7,108.3L561.9,107.9L562.2,107.4L562.4,106.7L562.6,105.7L562.9,104.7L563.1,103.4L563.4,102.0L563.6,100.4L563.9,98.6L564.1,96.7L564.3,94.6L564.6,92.4L564.8,90.0L565.1,87.6L565.3,85.0L565.5,82.3L565.8,79.5L566.0,76.6L566.3,73.6L566.5,70.6L566.8,67.6L567.0,64.6L567.2,61.5L567.5,58.5L567.7,55.5L568.0,52.6L568.2,49.8L568.4,47.0L568.7,44.4L568.9,41.9L569.2,39.5L569.4,37.3L569.7,35.2L569.9,33.4L570.1,31.7L570.4,30.3L570.6,29.0L570.9,28.0L571.1,27.2L571.3,26.7L571.6,26.3L571.8,26.2L572.1,26.3L572.3,26.7L572.6,27.2L572.8,28.0L573.0,29.0L573.3,30.1L573.5,31.5L573.8,33.0L574.0,34.6L574.2,36.4L574.5,38.3L574.7,40.4L575.0,42.5L575.2,44.8L575.5,47.1L575.7,49.5L575.9,51.9L576.2,54.3L576.4,56.8L576.7,59.2L576.9,61.7L577.1,64.1L577.4,66.5L577.6,68.9L577.9,71.2L578.1,73.4L578.4,75.6L578.6,77.7L578.8,79.8L579.1,81.7L579.3,83.6L579.6,85.3L579.8,87.0L580.0,88.5L580.3,90.0L580.5,91.3L580.8,92.6L581.0,93.7L581.3,94.7L581.5,95.6L581.7,96.3L582.0,97.0L582.2,97.5L582.5,98.0L582.7,98.3L582.9,98.5L583.2,98.6L583.4,98.6L583.7,98.5L583.9,98.2L584.2,97.9L584.4,97.5L584.6,96.9L584.9,96.3L585.1,95.5L585.4,94.7L585.6,93.8L585.8,92.8L586.1,91.7L586.3,90.5L586.6,89.3L586.8,88.0L587.1,86.6L587.3,85.2L587.5,83.7L587.8,82.1L588.0,80.5L588.3,78.9L588.5,77.3L588.7,75.6L589.0,73.9L589.2,72.2L589.5,70.5L589.7,68.8L590.0,67.1L590.2,65.4L590.4,63.7L590.7,62.1L590.9,60.5L591.2,58.9L591.4,57.4L591.6,56.0L591.9,54.6L592.1,53.2L592.4,51.9L592.6,50.7L592.9,49.6L593.1,48.6L593.3,47.6L593.6,46.7L593.8,45.9L594.1,45.2L594.3,44.6L594.5,44.1L594.8,43.7L595.0,43.3L595.3,43.1L595.5,42.9L595.8,42.9L596.0,42.9L596.2,43.0L596.5,43.2L596.7,43.5L597.0,43.9L597.2,44.3L597.4,44.8L597.7,45.4L597.9,46.0L598.2,46.7L598.4,47.5L598.7,48.3L598.9,49.2L599.1,50.1L599.4,51.1L599.6,52.1L599.9,53.1L600.1,54.2L600.3,55.3L600.6,56.4L600.8,57.5L601.1,58.6L601.3,59.7L601.6,60.9L601.8,62.0L602.0,63.1L602.3,64.2L602.5,65.3L602.8,66.4L603.0,67.5L603.2,68.6L603.5,69.6L603.7,70.6L604.0,71.6L604.2,72.6L604.5,73.5L604.7,74.4L604.9,75.2L605.2,76.0L605.4,76.8L605.7,77.5L605.9,78.2L606.1,78.9L606.4,79.5L606.6,80.0L606.9,80.6L607.1,81.0L607.4,81.5L607.6,81.9L607.8,82.2L608.1,82.5L608.3,82.7L608.6,83.0L608.8,83.1L609.0,83.2L609.3,83.3L609.5,83.3L609.8,83.3L610.0,83.3L610.3,83.2L610.5,83.1L610.7,82.9L611.0,82.7L611.2,82.4L611.5,82.2L611.7,81.8L611.9,81.5L612.2,81.1L612.4,80.7L612.7,80.3L612.9,79.8L613.1,79.4L613.4,78.8L613.6,78.3L613.9,77.8L614.1,77.2L614.4,76.6L614.6,76.0L614.8,75.4L615.1,74.8L615.3,74.2L615.6,73.5L615.8,72.9L616.0,72.2L616.3,71.6L616.5,70.9L616.8,70.3L617.0,69.6L617.3,69.0L617.5,68.4L617.7,67.7L618.0,67.1L618.2,66.5L618.5,65.9L618.7,65.3L618.9,64.8L619.2,64.2L619.4,63.7L619.7,63.2L619.9,62.7L620.2,62.2L620.4,61.7L620.6,61.3L620.9,60.9L621.1,60.5L621.4,60.1L621.6,59.8L621.8,59.5L622.1,59.2L622.3,58.9L622.6,58.7L622.8,58.4L623.1,58.3L623.3,58.1L623.5,57.9L623.8,57.8L624.0,57.7L624.3,57.7L624.5,57.6L624.7,57.6L625.0,57.6L625.2,57.6L625.5,57.7L625.7,57.7L626.0,57.8L626.2,57.9L626.4,58.1L626.7,58.2L626.9,58.4L627.2,58.6L627.4,58.8L627.6,59.0L627.9,59.2L628.1,59.5L628.4,59.7L628.6,60.0L628.9,60.3L629.1,60.6L629.3,60.9L629.6,61.2L629.8,61.5L630.1,61.8L630.3,62.1L630.5,62.5L630.8,62.8L631.0,63.1L631.3,63.5L631.5,63.8L631.8,64.2L632.0,64.5L632.2,64.9L632.5,65.2L632.7,65.6L633.0,65.9L633.2,66.2L633.4,66.6L633.7,66.9L633.9,67.2L634.2,67.5L634.4,67.9L634.7,68.2L634.9,68.5L635.1,68.7L635.4,69.0L635.6,69.3L635.9,69.6L636.1,69.8L636.3,70.1L636.6,70.3L636.8,70.5L637.1,70.7L637.3,71.0L637.6,71.1L637.8,71.3L638.0,71.5L638.3,71.7L638.5,71.8L638.8,72.0L639.0,72.1L639.2,72.2L639.5,72.3L639.7,72.4L640.0,72.5L640.2,72.6L640.5,72.6L640.7,72.7L640.9,72.7L641.2,72.8L641.4,72.8L641.7,72.8L641.9,72.8L642.1,72.8L642.4,72.8L642.6,72.8L642.9,72.7L643.1,72.7L643.4,72.6L643.6,72.6L643.8,72.5L644.1,72.4L644.3,72.4L644.6,72.3L644.8,72.2L645.0,72.1L645.3,72.0L645.5,71.8L645.8,71.7L646.0,71.6L646.3,71.5L646.5,71.3L646.7,71.2L647.0,71.1L647.2,70.9L647.5,70.8L647.7,70.6L647.9,70.5L648.2,70.3L648.4,70.2L648.7,70.0L648.9,69.8L649.2,69.7L649.4,69.5L649.6,69.4L649.9,69.2L650.1,69.0L650.4,68.9L650.6,68.7L650.8,68.5L651.1,68.4L651.3,68.2L651.6,68.1L651.8,67.9L652.1,67.8L652.3,67.6L652.5,67.5L652.8,67.3L653.0,67.2L653.3,67.1L653.5,66.9L653.7,66.8L654.0,66.7L654.2,66.5L654.5,66.4L654.7,66.3L655.0,66.2L655.2,66.1L655.4,66.0L655.7,65.9L655.9,65.8L656.2,65.7L656.4,65.6L656.6,65.5L656.9,65.5L657.1,65.4L657.4,65.3L657.6,65.3L657.9,65.2L658.1,65.2L658.3,65.1L658.6,65.1L658.8,65.0L659.1,65.0L659.3,65.0L659.5,64.9L659.8,64.9L660.0,64.9L660.3,64.9L660.5,64.9L660.8,64.9L661.0,64.9L661.2,64.9L661.5,64.9L661.7,64.9L662.0,64.9L662.2,64.9L662.4,64.9L662.7,64.9L662.9,65.0L663.2,65.0L663.4,65.0L663.7,65.1L663.9,65.1L664.1,65.1L664.4,65.2L664.6,65.2L664.9,65.3L665.1,65.3L665.3,65.4L665.6,65.4L665.8,65.5L666.1,65.6L666.3,65.6L666.6,65.7L666.8,65.7L667.0,65.8L667.3,65.9L667.5,65.9L667.8,66.0L668.0,66.1L668.2,66.1L668.5,66.2L668.7,66.3L669.0,66.3L669.2,66.4L669.5,66.5L669.7,66.5L669.9,66.6L670.2,66.7L670.4,66.7L670.7,66.8L670.9,66.9L671.1,66.9L671.4,67.0L671.6,67.1L671.9,67.1L672.1,67.2L672.4,67.3L672.6,67.3L672.8,67.4L673.1,67.4L673.3,67.5L673.6,67.6L673.8,67.6L674.0,67.7L674.3,67.7L674.5,67.8L674.8,67.8L675.0,67.9L675.3,67.9L675.5,68.0L675.7,68.0L676.0,68.1L676.2,68.1L676.5,68.2L676.7,68.2" fill="none" stroke="#0000ff" stroke-width="1.1" stroke-dasharray="6.8 2.6 1.8 2.6" stroke-linejoin="round"/>
<path d="M32.5,167.8L399.3,167.8L399.5,167.8L399.8,167.8L400.0,167.8L400.3,167.8L400.5,167.8L400.8,167.8L401.0,167.8L401.2,167.8L401.5,167.8L401.7,167.8L402.0,167.8L402.2,167.8L402.4,167.8L402.7,167.7L402.9,167.7L403.2,167.7L403.4,167.7L403.7,167.7L403.9,167.7L404.1,167.7L404.4,167.7L404.6,167.7L404.9,167.7L405.1,167.7L405.3,167.7L405.6,167.7L405.8,167.7L406.1,167.7L406.3,167.7L406.6,167.7L406.8,167.7L407.0,167.7L407.3,167.7L407.5,167.7L407.8,167.7L408.0,167.7L408.2,167.7L408.5,167.7L408.7,167.7L409.0,167.8L409.2,167.8L409.5,167.8L409.7,167.9L409.9,167.9L410.2,167.9L410.4,168.0L410.7,168.0L410.9,168.1L411.1,168.1L411.4,168.2L411.6,168.2L411.9,168.3L412.1,168.3L412.4,168.4L412.6,168.4L412.8,168.5L413.1,168.5L413.3,168.6L413.6,168.6L413.8,168.6L414.0,168.6L414.3,168.6L414.5,168.6L414.8,168.5L415.0,168.5L415.3,168.4L415.5,168.3L415.7,168.2L416.0,168.1L416.2,167.9L416.5,167.8L416.7,167.6L416.9,167.4L417.2,167.2L417.4,166.9L417.7,166.7L417.9,166.4L418.2,166.1L418.4,165.9L418.6,165.6L418.9,165.3L419.1,165.0L419.4,164.8L419.6,164.6L419.8,164.3L420.1,164.2L420.3,164.0L420.6,163.9L420.8,163.8L421.0,163.8L421.3,163.8L421.5,163.9L421.8,164.1L422.0,164.3L422.3,164.5L422.5,164.9L422.7,165.3L423.0,165.8L423.2,166.3L423.5,166.9L423.7,167.6L423.9,168.3L424.2,169.0L424.4,169.8L424.7,170.6L424.9,171.5L425.2,172.3L425.4,173.2L425.6,174.0L425.9,174.8L426.1,175.6L426.4,176.3L426.6,177.0L426.8,177.7L427.1,178.2L427.3,178.7L427.6,179.0L427.8,179.3L428.1,179.4L428.3,179.5L428.5,179.3L428.8,179.1L429.0,178.7L429.3,178.2L429.5,177.6L429.7,176.8L430.0,175.8L430.2,174.7L430.5,173.5L430.7,172.1L431.0,170.6L431.2,169.0L431.4,167.3L431.7,165.5L431.9,163.6L432.2,161.6L432.4,159.6L432.6,157.5L432.9,155.5L433.1,153.4L433.4,151.4L433.6,149.5L433.9,147.6L434.1,145.9L434.3,144.3L434.6,143.0L434.8,141.8L435.1,140.8L435.3,140.1L435.5,139.7L435.8,139.6L436.0,139.8L436.3,140.2L436.5,141.0L436.8,142.1L437.0,143.6L437.2,145.3L437.5,147.3L437.7,149.6L438.0,152.1L438.2,154.9L438.4,157.8L438.7,160.9L438.9,164.1L439.2,167.5L439.4,170.8L439.7,174.2L439.9,177.6L440.1,181.0L440.4,184.2L440.6,187.4L440.9,190.4L441.1,193.3L441.3,196.0L441.6,198.5L441.8,200.8L442.1,202.9L442.3,204.7L442.6,206.3L442.8,207.6L443.0,208.7L443.3,209.5L443.5,210.1L443.8,210.4L444.0,210.4L444.2,210.1L444.5,209.5L444.7,208.7L445.0,207.6L445.2,206.2L445.5,204.5L445.7,202.6L445.9,200.4L446.2,197.8L446.4,195.0L446.7,192.0L446.9,188.7L447.1,185.1L447.4,181.3L447.6,177.4L447.9,173.2L448.1,168.9L448.4,164.4L448.6,159.9L448.8,155.3L449.1,150.6L449.3,146.0L449.6,141.5L449.8,137.1L450.0,132.9L450.3,128.8L450.5,125.0L450.8,121.5L451.0,118.3L451.3,115.5L451.5,113.0L451.7,111.0L452.0,109.4L452.2,108.3L452.5,107.7L452.7,107.5L452.9,107.8L453.2,108.6L453.4,109.8L453.7,111.5L453.9,113.6L454.2,116.1L454.4,118.9L454.6,122.1L454.9,125.6L455.1,129.4L455.4,133.4L455.6,137.5L455.8,141.8L456.1,146.3L456.3,150.8L456.6,155.3L456.8,159.8L457.1,164.3L457.3,168.7L457.5,173.0L457.8,177.2L458.0,181.3L458.3,185.2L458.5,188.9L458.7,192.5L459.0,195.8L459.2,198.9L459.5,201.8L459.7,204.5L460.0,206.9L460.2,209.1L460.4,211.1L460.7,212.9L460.9,214.4L461.2,215.7L461.4,216.7L461.6,217.5L461.9,218.1L462.1,218.5L462.4,218.7L462.6,218.6L462.9,218.4L463.1,217.9L463.3,217.2L463.6,216.3L463.8,215.2L464.1,213.9L464.3,212.4L464.5,210.7L464.8,208.9L465.0,206.8L465.3,204.6L465.5,202.3L465.8,199.8L466.0,197.1L466.2,194.4L466.5,191.5L466.7,188.5L467.0,185.5L467.2,182.4L467.4,179.2L467.7,176.1L467.9,172.8L468.2,169.6L468.4,166.5L468.7,163.3L468.9,160.2L469.1,157.2L469.4,154.3L469.6,151.4L469.9,148.7L470.1,146.1L470.3,143.7L470.6,141.4L470.8,139.3L471.1,137.3L471.3,135.6L471.6,134.0L471.8,132.6L472.0,131.4L472.3,130.4L472.5,129.6L472.8,129.0L473.0,128.6L473.2,128.3L473.5,128.3L473.7,128.4L474.0,128.7L474.2,129.2L474.5,129.9L474.7,130.6L474.9,131.6L475.2,132.6L475.4,133.8L475.7,135.1L475.9,136.5L476.1,138.0L476.4,139.5L476.6,141.2L476.9,142.9L477.1,144.6L477.4,146.4L477.6,148.2L477.8,150.0L478.1,151.8L478.3,153.7L478.6,155.5L478.8,157.4L479.0,159.2L479.3,160.9L479.5,162.7L479.8,164.4L480.0,166.1L480.3,167.7L480.5,169.3L480.7,170.8L481.0,172.3L481.2,173.7L481.5,175.0L481.7,176.3L481.9,177.5L482.2,178.7L482.4,179.7L482.7,180.7L482.9,181.7L483.2,182.5L483.4,183.3L483.6,184.0L483.9,184.7L484.1,185.2L484.4,185.8L484.6,186.2L484.8,186.5L485.1,186.8L485.3,187.1L485.6,187.3L485.8,187.4L486.0,187.4L486.3,187.4L486.5,187.3L486.8,187.2L487.0,187.0L487.3,186.8L487.5,186.5L487.7,186.2L488.0,185.8L488.2,185.4L488.5,185.0L488.7,184.5L488.9,184.0L489.2,183.4L489.4,182.8L489.7,182.2L489.9,181.6L490.2,181.0L490.4,180.3L490.6,179.6L490.9,178.9L491.1,178.2L491.4,177.5L491.6,176.8L491.8,176.1L492.1,175.4L492.3,174.6L492.6,173.9L492.8,173.2L493.1,172.5L493.3,171.8L493.5,171.1L493.8,170.5L494.0,169.8L494.3,169.2L494.5,168.5L494.7,167.9L495.0,167.3L495.2,166.8L495.5,166.2L495.7,165.7L496.0,165.2L496.2,164.7L496.4,164.2L496.7,163.8L496.9,163.4L497.2,163.0L497.4,162.6L497.6,162.3L497.9,162.0L498.1,161.7L498.4,161.4L498.6,161.2L498.9,161.0L499.1,160.8L499.3,160.6L499.6,160.4L499.8,160.3L500.1,160.2L500.3,160.1L500.5,160.1L500.8,160.0L501.0,160.0L501.3,160.0L501.5,160.0L501.8,160.1L502.0,160.1L502.2,160.2L502.5,160.2L502.7,160.3L503.0,160.4L503.2,160.6L503.4,160.7L503.7,160.8L503.9,161.0L504.2,161.1L504.4,161.3L504.7,161.5L504.9,161.7L505.1,161.8L505.4,162.0L505.6,162.2L505.9,162.4L506.1,162.7L506.3,162.9L506.6,163.1L506.8,163.3L507.1,163.5L507.3,163.7L507.6,164.0L507.8,164.2L508.0,164.4L508.3,164.6L508.5,164.8L508.8,165.0L509.0,165.3L509.2,165.5L509.5,165.7L509.7,165.9L510.0,166.1L510.2,166.3L510.5,166.5L510.7,166.7L510.9,166.8L511.2,167.0L511.4,167.2L511.7,167.4L511.9,167.5L512.1,167.7L512.4,167.8L512.6,168.0L512.9,168.1L513.1,168.3L513.4,168.4L513.6,168.5L513.8,168.6L514.1,168.8L514.3,168.9L514.6,169.0L514.8,169.1L515.0,169.2L515.3,169.2L515.5,169.3L515.8,169.4L516.0,169.5L516.3,169.5L516.5,169.6L516.7,169.7L517.0,169.7L517.2,169.7L517.5,169.8L517.7,169.8L517.9,169.8L518.2,169.9L518.4,169.9L518.7,169.9L518.9,169.9L519.2,169.9L519.4,169.9L519.6,169.9L519.9,169.9L520.1,169.9L520.4,169.9L520.6,169.9L520.8,169.9L521.1,169.9L521.3,169.9L521.6,169.8L521.8,169.8L522.1,169.8L522.3,169.7L522.5,169.7L522.8,169.7L523.0,169.6L523.3,169.6L523.5,169.6L523.7,169.5L524.0,169.5L524.2,169.4L524.5,169.4L524.7,169.4L525.0,169.3L525.2,169.3L525.4,169.2L525.7,169.2L525.9,169.1L526.2,169.1L526.4,169.0L526.6,169.0L526.9,168.9L527.1,168.9L527.4,168.9L527.6,168.8L527.9,168.8L528.1,168.7L528.3,168.7L528.6,168.6L528.8,168.6L529.1,168.5L529.3,168.5L529.5,168.5L529.8,168.4L530.0,168.4L530.3,168.3L530.5,168.3L530.8,168.3L531.0,168.2L531.2,168.2L531.5,168.1L531.7,168.1L532.0,168.1L532.2,168.0L532.4,168.0L532.7,168.0L532.9,167.9L533.2,167.9L533.4,167.9L533.7,167.9L533.9,167.8L534.1,167.8L534.4,167.8L534.6,167.7L534.9,167.7L535.1,167.7L535.3,167.7L535.6,167.7L535.8,167.6L536.1,167.6L536.3,167.6L536.6,167.6L536.8,167.6L537.0,167.6L537.3,167.5L537.5,167.5L537.8,167.5L538.0,167.5L538.2,167.5L538.5,167.5L538.7,167.5L539.0,167.5L539.2,167.4L539.5,167.4L539.7,167.4L539.9,167.4L540.2,167.4L540.4,167.4L540.7,167.4L540.9,167.4L541.1,167.4L541.4,167.4L541.6,167.4L541.9,167.4L542.1,167.4L542.4,167.4L542.6,167.4L542.8,167.4L543.1,167.4L543.3,167.4L543.6,167.4L543.8,167.4L544.0,167.4L544.3,167.4L544.5,167.4L544.8,167.4L545.0,167.4L545.3,167.4L545.5,167.4L545.7,167.4L546.0,167.4L546.2,167.4L546.5,167.4L546.7,167.4L546.9,167.4L547.2,167.4L547.4,167.4L547.7,167.4L547.9,167.5L548.1,167.5L548.4,167.5L548.6,167.5L548.9,167.5L549.1,167.5L549.4,167.5L549.6,167.5L549.8,167.5L550.1,167.5L550.3,167.5L550.6,167.5L550.8,167.5L551.0,167.5L551.3,167.5L551.5,167.5L551.8,167.6L552.0,167.6L552.3,167.6L552.5,167.6L552.7,167.6L553.0,167.6L553.2,167.6L553.5,167.6L553.7,167.6L553.9,167.6L554.2,167.6L554.4,167.6L554.7,167.6L554.9,167.6L555.2,167.6L555.4,167.7L555.6,167.7L555.9,167.7L556.1,167.7L556.4,167.7L556.6,167.7L556.8,167.7L557.1,167.7L557.3,167.7L557.6,167.7L557.8,167.7L558.1,167.7L558.3,167.7L558.5,167.7L558.8,167.7L559.0,167.7L559.3,167.7L559.5,167.7L559.7,167.7L560.0,167.7L560.2,167.8L560.5,167.8L560.7,167.8L561.0,167.8L561.2,167.8L561.4,167.8L561.7,167.8L569.9,167.8L570.1,167.8L570.4,167.8L570.6,167.8L570.9,167.8L571.1,167.8L571.3,167.8L571.6,167.8L571.8,167.8L572.1,167.8L572.3,167.8L572.6,167.8L572.8,167.8L573.0,167.8L573.3,167.8L573.5,167.8L573.8,167.8L574.0,167.8L574.2,167.8L574.5,167.8L574.7,167.8L575.0,167.8L575.2,167.8L575.5,167.8L575.7,167.8L575.9,167.8L576.2,167.8L576.4,167.8L576.7,167.8L576.9,167.8L577.1,167.8L577.4,167.8L577.6,167.8L577.9,167.8L578.1,167.8L578.4,167.8L578.6,167.8L578.8,167.8L579.1,167.8L579.3,167.8L579.6,167.8L579.8,167.8L580.0,167.8L580.3,167.8L580.5,167.8L580.8,167.8L581.0,167.8L676.7,167.8" fill="none" stroke="#0000ff" stroke-width="1.1" stroke-dasharray="6.8 2.6 1.8 2.6" stroke-linejoin="round"/>
<path d="M32.5,268.1L296.1,268.1L296.4,268.1L296.6,268.1L296.8,268.1L297.1,268.1L297.3,268.1L297.6,268.1L297.8,268.1L298.1,268.1L298.3,268.1L298.5,268.1L298.8,268.1L299.0,268.1L299.3,268.1L299.5,268.0L299.7,268.0L300.0,268.0L300.2,268.0L300.5,268.0L300.7,268.0L301.0,268.0L301.2,268.0L301.4,268.0L301.7,268.0L301.9,268.0L302.2,268.0L302.4,268.0L302.6,268.0L302.9,268.0L303.1,268.0L303.4,268.0L303.6,268.0L303.9,268.0L304.1,268.0L304.3,268.0L304.6,268.0L304.8,268.0L305.1,268.0L305.3,268.0L305.5,268.0L305.8,268.0L306.0,268.0L306.3,268.0L306.5,268.0L306.8,268.0L307.0,268.0L307.2,268.0L307.5,268.0L307.7,268.0L308.0,268.0L308.2,268.0L308.4,268.0L308.7,268.0L308.9,268.0L309.2,268.0L309.4,268.0L309.7,268.0L309.9,268.1L310.1,268.1L310.4,268.1L310.6,268.1L310.9,268.1L311.1,268.1L311.3,268.1L311.6,268.1L311.8,268.1L312.1,268.1L312.3,268.1L312.6,268.2L312.8,268.2L313.0,268.2L313.3,268.2L313.5,268.2L313.8,268.3L314.0,268.3L314.2,268.3L314.5,268.3L314.7,268.4L315.0,268.4L315.2,268.4L315.5,268.5L315.7,268.5L315.9,268.5L316.2,268.6L316.4,268.6L316.7,268.7L316.9,268.7L317.1,268.8L317.4,268.8L317.6,268.9L317.9,268.9L318.1,269.0L318.4,269.0L318.6,269.1L318.8,269.2L319.1,269.2L319.3,269.3L319.6,269.3L319.8,269.4L320.0,269.5L320.3,269.5L320.5,269.6L320.8,269.6L321.0,269.7L321.3,269.8L321.5,269.8L321.7,269.9L322.0,269.9L322.2,269.9L322.5,270.0L322.7,270.0L322.9,270.0L323.2,270.0L323.4,270.0L323.7,270.0L323.9,270.0L324.2,270.0L324.4,270.0L324.6,269.9L324.9,269.8L325.1,269.8L325.4,269.7L325.6,269.5L325.8,269.4L326.1,269.2L326.3,269.1L326.6,268.9L326.8,268.6L327.1,268.4L327.3,268.1L327.5,267.8L327.8,267.5L328.0,267.1L328.3,266.7L328.5,266.3L328.7,265.9L329.0,265.4L329.2,264.9L329.5,264.4L329.7,263.9L330.0,263.3L330.2,262.7L330.4,262.1L330.7,261.4L330.9,260.8L331.2,260.1L331.4,259.4L331.6,258.7L331.9,258.0L332.1,257.3L332.4,256.6L332.6,255.9L332.9,255.2L333.1,254.5L333.3,253.9L333.6,253.3L333.8,252.7L334.1,252.2L334.3,251.7L334.5,251.3L334.8,251.0L335.0,250.7L335.3,250.6L335.5,250.5L335.8,250.6L336.0,250.7L336.2,251.0L336.5,251.5L336.7,252.0L337.0,252.7L337.2,253.6L337.4,254.6L337.7,255.8L337.9,257.1L338.2,258.6L338.4,260.2L338.7,262.0L338.9,263.9L339.1,265.9L339.4,268.1L339.6,270.4L339.9,272.8L340.1,275.3L340.3,277.8L340.6,280.4L340.8,283.1L341.1,285.7L341.3,288.4L341.6,291.0L341.8,293.6L342.0,296.2L342.3,298.6L342.5,301.0L342.8,303.2L343.0,305.3L343.2,307.3L343.5,309.1L343.7,310.7L344.0,312.1L344.2,313.4L344.5,314.4L344.7,315.3L344.9,315.9L345.2,316.3L345.4,316.5L345.7,316.4L345.9,316.2L346.1,315.6L346.4,314.8L346.6,313.8L346.9,312.5L347.1,310.9L347.4,309.1L347.6,306.9L347.8,304.5L348.1,301.7L348.3,298.7L348.6,295.3L348.8,291.6L349.0,287.7L349.3,283.4L349.5,278.8L349.8,273.9L350.0,268.8L350.3,263.5L350.5,258.0L350.7,252.3L351.0,246.5L351.2,240.7L351.5,234.8L351.7,229.1L351.9,223.4L352.2,218.0L352.4,212.8L352.7,207.9L352.9,203.5L353.2,199.4L353.4,195.9L353.6,193.0L353.9,190.7L354.1,189.0L354.4,188.0L354.6,187.6L354.8,188.0L355.1,189.0L355.3,190.7L355.6,193.0L355.8,195.9L356.0,199.4L356.3,203.5L356.5,207.9L356.8,212.8L357.0,218.0L357.3,223.4L357.5,229.1L357.7,234.8L358.0,240.7L358.2,246.5L358.5,252.3L358.7,258.0L358.9,263.5L359.2,268.8L359.4,273.9L359.7,278.8L359.9,283.4L360.2,287.7L360.4,291.6L360.6,295.3L360.9,298.7L361.1,301.7L361.4,304.5L361.6,306.9L361.8,309.1L362.1,310.9L362.3,312.5L362.6,313.8L362.8,314.8L363.1,315.6L363.3,316.2L363.5,316.4L363.8,316.5L364.0,316.3L364.3,315.9L364.5,315.3L364.7,314.4L365.0,313.4L365.2,312.1L365.5,310.7L365.7,309.1L366.0,307.3L366.2,305.3L366.4,303.2L366.7,301.0L366.9,298.6L367.2,296.2L367.4,293.6L367.6,291.0L367.9,288.4L368.1,285.7L368.4,283.1L368.6,280.4L368.9,277.8L369.1,275.3L369.3,272.8L369.6,270.4L369.8,268.1L370.1,265.9L370.3,263.9L370.5,262.0L370.8,260.2L371.0,258.6L371.3,257.1L371.5,255.8L371.8,254.6L372.0,253.6L372.2,252.7L372.5,252.0L372.7,251.5L373.0,251.0L373.2,250.7L373.4,250.6L373.7,250.5L373.9,250.6L374.2,250.7L374.4,251.0L374.7,251.3L374.9,251.7L375.1,252.2L375.4,252.7L375.6,253.3L375.9,253.9L376.1,254.5L376.3,255.2L376.6,255.9L376.8,256.6L377.1,257.3L377.3,258.0L377.6,258.7L377.8,259.4L378.0,260.1L378.3,260.8L378.5,261.4L378.8,262.1L379.0,262.7L379.2,263.3L379.5,263.9L379.7,264.4L380.0,264.9L380.2,265.4L380.5,265.9L380.7,266.3L380.9,266.7L381.2,267.1L381.4,267.5L381.7,267.8L381.9,268.1L382.1,268.4L382.4,268.6L382.6,268.9L382.9,269.1L383.1,269.2L383.4,269.4L383.6,269.5L383.8,269.7L384.1,269.8L384.3,269.8L384.6,269.9L384.8,270.0L385.0,270.0L385.3,270.0L385.5,270.0L385.8,270.0L386.0,270.0L386.3,270.0L386.5,270.0L386.7,270.0L387.0,269.9L387.2,269.9L387.5,269.9L387.7,269.8L387.9,269.8L388.2,269.7L388.4,269.6L388.7,269.6L388.9,269.5L389.2,269.5L389.4,269.4L389.6,269.3L389.9,269.3L390.1,269.2L390.4,269.2L390.6,269.1L390.8,269.0L391.1,269.0L391.3,268.9L391.6,268.9L391.8,268.8L392.1,268.8L392.3,268.7L392.5,268.7L392.8,268.6L393.0,268.6L393.3,268.5L393.5,268.5L393.7,268.5L394.0,268.4L394.2,268.4L394.5,268.4L394.7,268.3L395.0,268.3L395.2,268.3L395.4,268.3L395.7,268.2L395.9,268.2L396.2,268.2L396.4,268.2L396.6,268.2L396.9,268.1L397.1,268.1L397.4,268.1L397.6,268.1L397.9,268.1L398.1,268.1L398.3,268.1L398.6,268.1L398.8,268.1L399.1,268.1L399.3,268.1L399.5,268.0L399.8,268.0L400.0,268.0L400.3,268.0L400.5,268.0L400.8,268.0L401.0,268.0L401.2,268.0L401.5,268.0L401.7,268.0L402.0,268.0L402.2,268.0L402.4,268.0L402.7,268.0L402.9,268.0L403.2,268.0L403.4,268.0L403.7,268.0L403.9,268.0L404.1,268.0L404.4,268.0L404.6,268.0L404.9,268.0L405.1,268.0L405.3,268.0L405.6,268.0L405.8,268.0L406.1,268.0L406.3,268.0L406.6,268.0L406.8,268.0L407.0,268.0L407.3,268.0L407.5,268.0L407.8,268.0L408.0,268.0L408.2,268.0L408.5,268.0L408.7,268.0L409.0,268.0L409.2,268.0L409.5,268.0L409.7,268.0L409.9,268.1L410.2,268.1L410.4,268.1L410.7,268.1L410.9,268.1L411.1,268.1L411.4,268.1L411.6,268.1L411.9,268.1L412.1,268.1L412.4,268.1L412.6,268.1L412.8,268.1L413.1,268.1L676.7,268.1" fill="none" stroke="#0000ff" stroke-width="1.1" stroke-dasharray="6.8 2.6 1.8 2.6" stroke-linejoin="round"/>
<path d="M32.5,368.4L128.2,368.4L128.4,368.4L128.7,368.4L128.9,368.4L129.2,368.4L129.4,368.4L129.6,368.4L129.9,368.4L130.1,368.4L130.4,368.4L130.6,368.4L130.8,368.4L131.1,368.4L131.3,368.4L131.6,368.4L131.8,368.4L132.1,368.4L132.3,368.4L132.5,368.4L132.8,368.4L133.0,368.4L133.3,368.4L133.5,368.4L133.7,368.4L134.0,368.4L134.2,368.4L134.5,368.4L134.7,368.4L135.0,368.4L135.2,368.4L135.4,368.4L135.7,368.4L135.9,368.4L136.2,368.4L136.4,368.4L136.6,368.4L136.9,368.4L137.1,368.4L137.4,368.4L137.6,368.4L137.9,368.4L138.1,368.4L138.3,368.4L138.6,368.4L138.8,368.4L139.1,368.4L139.3,368.4L147.5,368.4L147.8,368.4L148.0,368.4L148.2,368.4L148.5,368.4L148.7,368.4L149.0,368.4L149.2,368.3L149.5,368.3L149.7,368.3L149.9,368.3L150.2,368.3L150.4,368.3L150.7,368.3L150.9,368.3L151.1,368.3L151.4,368.3L151.6,368.3L151.9,368.3L152.1,368.3L152.4,368.3L152.6,368.3L152.8,368.3L153.1,368.3L153.3,368.3L153.6,368.3L153.8,368.3L154.0,368.2L154.3,368.2L154.5,368.2L154.8,368.2L155.0,368.2L155.3,368.2L155.5,368.2L155.7,368.2L156.0,368.2L156.2,368.2L156.5,368.2L156.7,368.2L156.9,368.2L157.2,368.2L157.4,368.2L157.7,368.1L157.9,368.1L158.2,368.1L158.4,368.1L158.6,368.1L158.9,368.1L159.1,368.1L159.4,368.1L159.6,368.1L159.8,368.1L160.1,368.1L160.3,368.1L160.6,368.1L160.8,368.1L161.1,368.1L161.3,368.1L161.5,368.0L161.8,368.0L162.0,368.0L162.3,368.0L162.5,368.0L162.7,368.0L163.0,368.0L163.2,368.0L163.5,368.0L163.7,368.0L163.9,368.0L164.2,368.0L164.4,368.0L164.7,368.0L164.9,368.0L165.2,368.0L165.4,368.0L165.6,368.0L165.9,368.0L166.1,368.0L166.4,368.0L166.6,368.0L166.8,368.0L167.1,368.0L167.3,368.0L167.6,368.0L167.8,368.0L168.1,368.0L168.3,368.0L168.5,368.0L168.8,368.0L169.0,368.0L169.3,368.0L169.5,368.0L169.7,368.0L170.0,368.0L170.2,368.1L170.5,368.1L170.7,368.1L171.0,368.1L171.2,368.1L171.4,368.1L171.7,368.1L171.9,368.1L172.2,368.2L172.4,368.2L172.6,368.2L172.9,368.2L173.1,368.2L173.4,368.2L173.6,368.3L173.9,368.3L174.1,368.3L174.3,368.3L174.6,368.3L174.8,368.4L175.1,368.4L175.3,368.4L175.5,368.5L175.8,368.5L176.0,368.5L176.3,368.5L176.5,368.6L176.8,368.6L177.0,368.6L177.2,368.7L177.5,368.7L177.7,368.7L178.0,368.8L178.2,368.8L178.4,368.9L178.7,368.9L178.9,368.9L179.2,369.0L179.4,369.0L179.7,369.1L179.9,369.1L180.1,369.1L180.4,369.2L180.6,369.2L180.9,369.3L181.1,369.3L181.3,369.4L181.6,369.4L181.8,369.5L182.1,369.5L182.3,369.5L182.6,369.6L182.8,369.6L183.0,369.7L183.3,369.7L183.5,369.8L183.8,369.8L184.0,369.9L184.2,369.9L184.5,370.0L184.7,370.0L185.0,370.0L185.2,370.1L185.5,370.1L185.7,370.2L185.9,370.2L186.2,370.2L186.4,370.3L186.7,370.3L186.9,370.3L187.1,370.4L187.4,370.4L187.6,370.4L187.9,370.5L188.1,370.5L188.4,370.5L188.6,370.5L188.8,370.5L189.1,370.5L189.3,370.5L189.6,370.5L189.8,370.5L190.0,370.5L190.3,370.5L190.5,370.5L190.8,370.5L191.0,370.5L191.3,370.4L191.5,370.4L191.7,370.4L192.0,370.3L192.2,370.3L192.5,370.3L192.7,370.2L192.9,370.1L193.2,370.1L193.4,370.0L193.7,369.9L193.9,369.8L194.2,369.8L194.4,369.7L194.6,369.6L194.9,369.5L195.1,369.4L195.4,369.2L195.6,369.1L195.8,369.0L196.1,368.9L196.3,368.7L196.6,368.6L196.8,368.4L197.1,368.3L197.3,368.1L197.5,368.0L197.8,367.8L198.0,367.6L198.3,367.4L198.5,367.3L198.7,367.1L199.0,366.9L199.2,366.7L199.5,366.5L199.7,366.3L200.0,366.1L200.2,365.9L200.4,365.6L200.7,365.4L200.9,365.2L201.2,365.0L201.4,364.8L201.6,364.6L201.9,364.3L202.1,364.1L202.4,363.9L202.6,363.7L202.9,363.5L203.1,363.3L203.3,363.0L203.6,362.8L203.8,362.6L204.1,362.4L204.3,362.3L204.5,362.1L204.8,361.9L205.0,361.7L205.3,361.6L205.5,361.4L205.8,361.3L206.0,361.2L206.2,361.0L206.5,360.9L206.7,360.8L207.0,360.8L207.2,360.7L207.4,360.7L207.7,360.6L207.9,360.6L208.2,360.6L208.4,360.6L208.7,360.7L208.9,360.7L209.1,360.8L209.4,360.9L209.6,361.0L209.9,361.2L210.1,361.4L210.3,361.6L210.6,361.8L210.8,362.0L211.1,362.3L211.3,362.6L211.6,362.9L211.8,363.2L212.0,363.6L212.3,364.0L212.5,364.4L212.8,364.8L213.0,365.3L213.2,365.8L213.5,366.3L213.7,366.8L214.0,367.4L214.2,367.9L214.5,368.5L214.7,369.1L214.9,369.8L215.2,370.4L215.4,371.1L215.7,371.7L215.9,372.4L216.1,373.1L216.4,373.8L216.6,374.5L216.9,375.2L217.1,376.0L217.4,376.7L217.6,377.4L217.8,378.1L218.1,378.8L218.3,379.5L218.6,380.2L218.8,380.9L219.0,381.6L219.3,382.2L219.5,382.8L219.8,383.4L220.0,384.0L220.3,384.6L220.5,385.1L220.7,385.6L221.0,386.0L221.2,386.4L221.5,386.8L221.7,387.1L221.9,387.4L222.2,387.6L222.4,387.8L222.7,387.9L222.9,388.0L223.2,388.0L223.4,388.0L223.6,387.9L223.9,387.7L224.1,387.4L224.4,387.1L224.6,386.8L224.8,386.4L225.1,385.8L225.3,385.3L225.6,384.6L225.8,383.9L226.0,383.1L226.3,382.3L226.5,381.3L226.8,380.3L227.0,379.3L227.3,378.1L227.5,376.9L227.7,375.6L228.0,374.3L228.2,372.9L228.5,371.4L228.7,369.9L228.9,368.3L229.2,366.7L229.4,365.0L229.7,363.3L229.9,361.5L230.2,359.8L230.4,358.0L230.6,356.1L230.9,354.3L231.1,352.4L231.4,350.6L231.6,348.8L231.8,347.0L232.1,345.2L232.3,343.5L232.6,341.8L232.8,340.1L233.1,338.6L233.3,337.1L233.5,335.7L233.8,334.4L234.0,333.2L234.3,332.2L234.5,331.2L234.7,330.5L235.0,329.8L235.2,329.3L235.5,329.0L235.7,328.9L236.0,328.9L236.2,329.2L236.4,329.6L236.7,330.2L236.9,331.0L237.2,332.0L237.4,333.2L237.6,334.6L237.9,336.2L238.1,337.9L238.4,339.9L238.6,342.0L238.9,344.3L239.1,346.7L239.3,349.3L239.6,352.0L239.8,354.9L240.1,357.8L240.3,360.8L240.5,363.9L240.8,367.1L241.0,370.2L241.3,373.4L241.5,376.7L241.8,379.8L242.0,383.0L242.2,386.1L242.5,389.1L242.7,392.1L243.0,395.0L243.2,397.7L243.4,400.4L243.7,402.9L243.9,405.2L244.2,407.4L244.4,409.5L244.7,411.3L244.9,413.0L245.1,414.5L245.4,415.8L245.6,416.9L245.9,417.8L246.1,418.5L246.3,419.0L246.6,419.2L246.8,419.3L247.1,419.1L247.3,418.7L247.6,418.1L247.8,417.3L248.0,416.3L248.3,415.0L248.5,413.5L248.8,411.7L249.0,409.7L249.2,407.5L249.5,405.1L249.7,402.4L250.0,399.5L250.2,396.4L250.5,393.1L250.7,389.5L250.9,385.8L251.2,381.9L251.4,377.8L251.7,373.6L251.9,369.3L252.1,364.9L252.4,360.4L252.6,355.9L252.9,351.4L253.1,346.9L253.4,342.4L253.6,338.1L253.8,334.0L254.1,330.0L254.3,326.2L254.6,322.7L254.8,319.5L255.0,316.7L255.3,314.2L255.5,312.1L255.8,310.4L256.0,309.2L256.3,308.4L256.5,308.1L256.7,308.3L257.0,308.9L257.2,310.0L257.5,311.6L257.7,313.6L257.9,316.1L258.2,318.9L258.4,322.1L258.7,325.6L258.9,329.4L259.2,333.5L259.4,337.7L259.6,342.1L259.9,346.6L260.1,351.2L260.4,355.9L260.6,360.5L260.8,365.0L261.1,369.5L261.3,373.8L261.6,378.0L261.8,381.9L262.1,385.7L262.3,389.3L262.5,392.6L262.8,395.6L263.0,398.4L263.3,401.0L263.5,403.2L263.7,405.1L264.0,406.8L264.2,408.2L264.5,409.3L264.7,410.1L265.0,410.7L265.2,411.0L265.4,411.0L265.7,410.7L265.9,410.1L266.2,409.3L266.4,408.2L266.6,406.9L266.9,405.3L267.1,403.5L267.4,401.4L267.6,399.1L267.9,396.6L268.1,393.9L268.3,391.0L268.6,388.0L268.8,384.8L269.1,381.6L269.3,378.2L269.5,374.8L269.8,371.4L270.0,368.1L270.3,364.7L270.5,361.5L270.8,358.4L271.0,355.5L271.2,352.7L271.5,350.2L271.7,347.9L272.0,345.9L272.2,344.2L272.4,342.7L272.7,341.6L272.9,340.8L273.2,340.4L273.4,340.2L273.7,340.3L273.9,340.7L274.1,341.4L274.4,342.4L274.6,343.6L274.9,344.9L275.1,346.5L275.3,348.2L275.6,350.1L275.8,352.0L276.1,354.0L276.3,356.1L276.6,358.1L276.8,360.2L277.0,362.2L277.3,364.2L277.5,366.1L277.8,367.9L278.0,369.6L278.2,371.2L278.5,372.7L278.7,374.1L279.0,375.3L279.2,376.4L279.5,377.4L279.7,378.2L279.9,378.8L280.2,379.3L280.4,379.7L280.7,379.9L280.9,380.1L281.1,380.0L281.4,379.9L281.6,379.6L281.9,379.3L282.1,378.8L282.4,378.3L282.6,377.6L282.8,376.9L283.1,376.2L283.3,375.4L283.6,374.6L283.8,373.8L284.0,372.9L284.3,372.1L284.5,371.2L284.8,370.4L285.0,369.6L285.3,368.9L285.5,368.2L285.7,367.5L286.0,366.9L286.2,366.4L286.5,365.9L286.7,365.5L286.9,365.1L287.2,364.9L287.4,364.7L287.7,364.5L287.9,364.4L288.2,364.4L288.4,364.4L288.6,364.5L288.9,364.6L289.1,364.8L289.4,364.9L289.6,365.2L289.8,365.4L290.1,365.6L290.3,365.9L290.6,366.2L290.8,366.5L291.0,366.7L291.3,367.0L291.5,367.3L291.8,367.5L292.0,367.8L292.3,368.0L292.5,368.2L292.7,368.4L293.0,368.5L293.2,368.7L293.5,368.8L293.7,368.9L293.9,369.0L294.2,369.1L294.4,369.1L294.7,369.2L294.9,369.2L295.2,369.2L295.4,369.2L295.6,369.2L295.9,369.2L296.1,369.1L296.4,369.1L296.6,369.0L296.8,369.0L297.1,368.9L297.3,368.9L297.6,368.8L297.8,368.8L298.1,368.7L298.3,368.7L298.5,368.6L298.8,368.6L299.0,368.5L299.3,368.5L299.5,368.5L299.7,368.4L300.0,368.4L300.2,368.4L300.5,368.3L300.7,368.3L301.0,368.3L301.2,368.3L301.4,368.3L301.7,368.3L301.9,368.3L302.2,368.3L302.4,368.3L302.6,368.3L302.9,368.3L303.1,368.3L303.4,368.3L303.6,368.3L303.9,368.3L304.1,368.3L304.3,368.3L304.6,368.3L304.8,368.3L305.1,368.3L305.3,368.3L305.5,368.3L305.8,368.3L306.0,368.3L306.3,368.3L306.5,368.3L306.8,368.4L307.0,368.4L307.2,368.4L307.5,368.4L307.7,368.4L308.0,368.4L308.2,368.4L308.4,368.4L308.7,368.4L308.9,368.4L309.2,368.4L309.4,368.4L309.7,368.4L309.9,368.4L676.7,368.4" fill="none" stroke="#0000ff" stroke-width="1.1" stroke-dasharray="6.8 2.6 1.8 2.6" stroke-linejoin="round"/>
<path d="M32.5,469.4L32.7,469.4L33.0,469.3L33.2,469.3L33.5,469.2L33.7,469.2L33.9,469.1L34.2,469.1L34.4,469.0L34.7,469.0L34.9,468.9L35.2,468.9L35.4,468.8L35.6,468.8L35.9,468.7L36.1,468.6L36.4,468.6L36.6,468.5L36.8,468.5L37.1,468.4L37.3,468.3L37.6,468.3L37.8,468.2L38.1,468.1L38.3,468.1L38.5,468.0L38.8,467.9L39.0,467.9L39.3,467.8L39.5,467.7L39.7,467.7L40.0,467.6L40.2,467.5L40.5,467.5L40.7,467.4L41.0,467.3L41.2,467.3L41.4,467.2L41.7,467.1L41.9,467.1L42.2,467.0L42.4,466.9L42.6,466.9L42.9,466.8L43.1,466.8L43.4,466.7L43.6,466.6L43.9,466.6L44.1,466.5L44.3,466.5L44.6,466.4L44.8,466.4L45.1,466.3L45.3,466.3L45.5,466.3L45.8,466.2L46.0,466.2L46.3,466.2L46.5,466.1L46.8,466.1L47.0,466.1L47.2,466.1L47.5,466.1L47.7,466.1L48.0,466.1L48.2,466.1L48.4,466.1L48.7,466.1L48.9,466.1L49.2,466.1L49.4,466.1L49.7,466.1L49.9,466.2L50.1,466.2L50.4,466.2L50.6,466.3L50.9,466.3L51.1,466.4L51.3,466.4L51.6,466.5L51.8,466.5L52.1,466.6L52.3,466.7L52.6,466.7L52.8,466.8L53.0,466.9L53.3,467.0L53.5,467.1L53.8,467.2L54.0,467.3L54.2,467.4L54.5,467.5L54.7,467.6L55.0,467.7L55.2,467.9L55.5,468.0L55.7,468.1L55.9,468.3L56.2,468.4L56.4,468.5L56.7,468.7L56.9,468.8L57.1,469.0L57.4,469.1L57.6,469.3L57.9,469.4L58.1,469.6L58.4,469.7L58.6,469.9L58.8,470.1L59.1,470.2L59.3,470.4L59.6,470.6L59.8,470.7L60.0,470.9L60.3,471.0L60.5,471.2L60.8,471.4L61.0,471.5L61.3,471.7L61.5,471.8L61.7,472.0L62.0,472.1L62.2,472.3L62.5,472.4L62.7,472.5L62.9,472.7L63.2,472.8L63.4,472.9L63.7,473.0L63.9,473.2L64.2,473.3L64.4,473.4L64.6,473.5L64.9,473.6L65.1,473.6L65.4,473.7L65.6,473.8L65.8,473.8L66.1,473.9L66.3,473.9L66.6,474.0L66.8,474.0L67.1,474.0L67.3,474.0L67.5,474.0L67.8,474.0L68.0,474.0L68.3,473.9L68.5,473.9L68.7,473.8L69.0,473.8L69.2,473.7L69.5,473.6L69.7,473.5L70.0,473.4L70.2,473.3L70.4,473.2L70.7,473.0L70.9,472.9L71.2,472.7L71.4,472.5L71.6,472.3L71.9,472.2L72.1,471.9L72.4,471.7L72.6,471.5L72.9,471.3L73.1,471.0L73.3,470.8L73.6,470.5L73.8,470.2L74.1,469.9L74.3,469.7L74.5,469.4L74.8,469.1L75.0,468.7L75.3,468.4L75.5,468.1L75.8,467.8L76.0,467.4L76.2,467.1L76.5,466.8L76.7,466.4L77.0,466.1L77.2,465.7L77.4,465.4L77.7,465.0L77.9,464.7L78.2,464.3L78.4,464.0L78.7,463.7L78.9,463.3L79.1,463.0L79.4,462.7L79.6,462.4L79.9,462.1L80.1,461.8L80.3,461.5L80.6,461.2L80.8,460.9L81.1,460.7L81.3,460.4L81.6,460.2L81.8,460.0L82.0,459.8L82.3,459.6L82.5,459.4L82.8,459.3L83.0,459.1L83.2,459.0L83.5,458.9L83.7,458.9L84.0,458.8L84.2,458.8L84.5,458.8L84.7,458.8L84.9,458.9L85.2,458.9L85.4,459.0L85.7,459.1L85.9,459.3L86.1,459.5L86.4,459.6L86.6,459.9L86.9,460.1L87.1,460.4L87.4,460.7L87.6,461.0L87.8,461.3L88.1,461.7L88.3,462.1L88.6,462.5L88.8,462.9L89.0,463.4L89.3,463.9L89.5,464.4L89.8,464.9L90.0,465.4L90.3,466.0L90.5,466.5L90.7,467.1L91.0,467.7L91.2,468.3L91.5,468.9L91.7,469.6L91.9,470.2L92.2,470.8L92.4,471.5L92.7,472.1L92.9,472.8L93.2,473.4L93.4,474.1L93.6,474.7L93.9,475.4L94.1,476.0L94.4,476.6L94.6,477.2L94.8,477.8L95.1,478.4L95.3,479.0L95.6,479.5L95.8,480.0L96.1,480.6L96.3,481.0L96.5,481.5L96.8,481.9L97.0,482.3L97.3,482.7L97.5,483.0L97.7,483.4L98.0,483.6L98.2,483.9L98.5,484.1L98.7,484.3L98.9,484.4L99.2,484.5L99.4,484.5L99.7,484.5L99.9,484.5L100.2,484.4L100.4,484.3L100.6,484.2L100.9,483.9L101.1,483.7L101.4,483.4L101.6,483.1L101.8,482.7L102.1,482.2L102.3,481.8L102.6,481.2L102.8,480.7L103.1,480.1L103.3,479.4L103.5,478.7L103.8,478.0L104.0,477.2L104.3,476.4L104.5,475.6L104.7,474.7L105.0,473.8L105.2,472.8L105.5,471.8L105.7,470.8L106.0,469.8L106.2,468.7L106.4,467.6L106.7,466.5L106.9,465.4L107.2,464.3L107.4,463.2L107.6,462.1L107.9,460.9L108.1,459.8L108.4,458.7L108.6,457.6L108.9,456.5L109.1,455.4L109.3,454.3L109.6,453.3L109.8,452.3L110.1,451.3L110.3,450.4L110.5,449.5L110.8,448.7L111.0,447.9L111.3,447.2L111.5,446.6L111.8,446.0L112.0,445.5L112.2,445.1L112.5,444.7L112.7,444.4L113.0,444.2L113.2,444.1L113.4,444.1L113.7,444.1L113.9,444.3L114.2,444.5L114.4,444.9L114.7,445.3L114.9,445.8L115.1,446.4L115.4,447.1L115.6,447.9L115.9,448.8L116.1,449.8L116.3,450.8L116.6,451.9L116.8,453.1L117.1,454.4L117.3,455.8L117.6,457.2L117.8,458.6L118.0,460.1L118.3,461.7L118.5,463.3L118.8,464.9L119.0,466.6L119.2,468.3L119.5,470.0L119.7,471.7L120.0,473.4L120.2,475.1L120.5,476.8L120.7,478.5L120.9,480.1L121.2,481.7L121.4,483.3L121.7,484.9L121.9,486.4L122.1,487.8L122.4,489.2L122.6,490.5L122.9,491.7L123.1,492.9L123.4,494.0L123.6,495.0L123.8,495.9L124.1,496.7L124.3,497.5L124.6,498.1L124.8,498.7L125.0,499.1L125.3,499.4L125.5,499.7L125.8,499.8L126.0,499.8L126.3,499.7L126.5,499.5L126.7,499.2L127.0,498.7L127.2,498.2L127.5,497.5L127.7,496.8L127.9,495.9L128.2,494.9L128.4,493.8L128.7,492.5L128.9,491.2L129.2,489.7L129.4,488.2L129.6,486.5L129.9,484.8L130.1,482.9L130.4,481.0L130.6,478.9L130.8,476.8L131.1,474.6L131.3,472.4L131.6,470.1L131.8,467.7L132.1,465.3L132.3,462.9L132.5,460.4L132.8,458.0L133.0,455.5L133.3,453.1L133.5,450.7L133.7,448.3L134.0,446.0L134.2,443.7L134.5,441.6L134.7,439.5L135.0,437.6L135.2,435.8L135.4,434.2L135.7,432.7L135.9,431.3L136.2,430.2L136.4,429.2L136.6,428.4L136.9,427.9L137.1,427.5L137.4,427.4L137.6,427.5L137.9,427.9L138.1,428.4L138.3,429.2L138.6,430.2L138.8,431.5L139.1,432.9L139.3,434.6L139.5,436.4L139.8,438.5L140.0,440.7L140.3,443.1L140.5,445.6L140.8,448.2L141.0,451.0L141.2,453.8L141.5,456.7L141.7,459.7L142.0,462.7L142.2,465.8L142.4,468.8L142.7,471.8L142.9,474.8L143.2,477.8L143.4,480.7L143.7,483.5L143.9,486.2L144.1,488.8L144.4,491.2L144.6,493.6L144.9,495.8L145.1,497.9L145.3,499.8L145.6,501.6L145.8,503.2L146.1,504.6L146.3,505.9L146.6,506.9L146.8,507.9L147.0,508.6L147.3,509.1L147.5,509.5L147.8,509.7L148.0,509.7L148.2,509.5L148.5,509.1L148.7,508.6L149.0,507.8L149.2,506.9L149.5,505.8L149.7,504.4L149.9,502.9L150.2,501.2L150.4,499.4L150.7,497.3L150.9,495.1L151.1,492.6L151.4,490.1L151.6,487.3L151.9,484.4L152.1,481.4L152.4,478.2L152.6,474.9L152.8,471.6L153.1,468.1L153.3,464.6L153.6,461.1L153.8,457.6L154.0,454.1L154.3,450.6L154.5,447.2L154.8,444.0L155.0,440.8L155.3,437.8L155.5,435.1L155.7,432.5L156.0,430.2L156.2,428.1L156.5,426.4L156.7,424.9L156.9,423.8L157.2,423.0L157.4,422.6L157.7,422.5L157.9,422.8L158.2,423.5L158.4,424.5L158.6,425.8L158.9,427.5L159.1,429.5L159.4,431.7L159.6,434.3L159.8,437.1L160.1,440.1L160.3,443.3L160.6,446.6L160.8,450.0L161.1,453.6L161.3,457.2L161.5,460.8L161.8,464.5L162.0,468.0L162.3,471.6L162.5,475.0L162.7,478.3L163.0,481.5L163.2,484.6L163.5,487.4L163.7,490.1L163.9,492.6L164.2,494.9L164.4,497.0L164.7,498.9L164.9,500.5L165.2,501.9L165.4,503.1L165.6,504.1L165.9,504.9L166.1,505.4L166.4,505.7L166.6,505.8L166.8,505.7L167.1,505.3L167.3,504.7L167.6,503.9L167.8,502.9L168.1,501.6L168.3,500.2L168.5,498.5L168.8,496.6L169.0,494.5L169.3,492.2L169.5,489.7L169.7,487.0L170.0,484.2L170.2,481.3L170.5,478.2L170.7,475.0L171.0,471.7L171.2,468.4L171.4,465.1L171.7,461.7L171.9,458.5L172.2,455.3L172.4,452.2L172.6,449.3L172.9,446.5L173.1,444.0L173.4,441.7L173.6,439.7L173.9,438.0L174.1,436.6L174.3,435.5L174.6,434.8L174.8,434.4L175.1,434.4L175.3,434.7L175.5,435.3L175.8,436.3L176.0,437.6L176.3,439.2L176.5,441.1L176.8,443.2L177.0,445.4L177.2,447.9L177.5,450.5L177.7,453.3L178.0,456.1L178.2,458.9L178.4,461.8L178.7,464.6L178.9,467.4L179.2,470.2L179.4,472.8L179.7,475.3L179.9,477.7L180.1,479.9L180.4,481.9L180.6,483.8L180.9,485.5L181.1,487.0L181.3,488.3L181.6,489.4L181.8,490.3L182.1,491.0L182.3,491.5L182.6,491.8L182.8,491.9L183.0,491.8L183.3,491.5L183.5,491.0L183.8,490.3L184.0,489.4L184.2,488.3L184.5,487.1L184.7,485.7L185.0,484.2L185.2,482.5L185.5,480.8L185.7,478.9L185.9,476.9L186.2,474.8L186.4,472.8L186.7,470.7L186.9,468.5L187.1,466.5L187.4,464.4L187.6,462.5L187.9,460.6L188.1,458.9L188.4,457.3L188.6,455.9L188.8,454.7L189.1,453.7L189.3,452.8L189.6,452.2L189.8,451.8L190.0,451.6L190.3,451.7L190.5,451.9L190.8,452.4L191.0,453.0L191.3,453.8L191.5,454.8L191.7,455.9L192.0,457.1L192.2,458.4L192.5,459.8L192.7,461.3L192.9,462.8L193.2,464.3L193.4,465.7L193.7,467.2L193.9,468.6L194.2,470.0L194.4,471.3L194.6,472.5L194.9,473.6L195.1,474.7L195.4,475.6L195.6,476.4L195.8,477.0L196.1,477.6L196.3,478.0L196.6,478.3L196.8,478.5L197.1,478.5L197.3,478.4L197.5,478.2L197.8,477.9L198.0,477.5L198.3,477.0L198.5,476.4L198.7,475.8L199.0,475.0L199.2,474.2L199.5,473.4L199.7,472.5L200.0,471.6L200.2,470.7L200.4,469.8L200.7,468.9L200.9,468.1L201.2,467.2L201.4,466.5L201.6,465.7L201.9,465.1L202.1,464.5L202.4,464.1L202.6,463.7L202.9,463.4L203.1,463.2L203.3,463.0L203.6,463.0L203.8,463.1L204.1,463.2L204.3,463.4L204.5,463.7L204.8,464.1L205.0,464.4L205.3,464.9L205.5,465.4L205.8,465.9L206.0,466.4L206.2,466.9L206.5,467.4L206.7,467.9L207.0,468.4L207.2,468.9L207.4,469.4L207.7,469.8L207.9,470.1L208.2,470.5L208.4,470.7L208.7,471.0L208.9,471.2L209.1,471.3L209.4,471.4L209.6,471.4L209.9,471.4L210.1,471.4L210.3,471.3L210.6,471.1L210.8,471.0L211.1,470.8L211.3,470.6L211.6,470.3L211.8,470.1L212.0,469.8L212.3,469.6L212.5,469.3L212.8,469.0L213.0,468.8L213.2,468.6L213.5,468.3L213.7,468.1L214.0,468.0L214.2,467.8L214.5,467.7L214.7,467.6L214.9,467.5L215.2,467.5L215.4,467.4L215.7,467.4L215.9,467.5L216.1,467.5L216.4,467.6L216.6,467.6L216.9,467.7L217.1,467.8L217.4,468.0L217.6,468.1L217.8,468.2L218.1,468.3L218.3,468.4L218.6,468.6L218.8,468.7L219.0,468.8L219.3,468.9L219.5,468.9L219.8,469.0L220.0,469.1L220.3,469.1L220.5,469.2L220.7,469.2L221.0,469.2L221.2,469.2L221.5,469.2L221.7,469.2L221.9,469.1L222.2,469.1L222.4,469.1L222.7,469.0L222.9,469.0L223.2,468.9L223.4,468.9L223.6,468.8L223.9,468.8L224.1,468.7L224.4,468.7L224.6,468.6L224.8,468.6L225.1,468.6L225.3,468.5L225.6,468.5L225.8,468.5L226.0,468.5L226.3,468.5L226.5,468.5L226.8,468.5L227.0,468.5L227.3,468.5L227.5,468.5L227.7,468.6L228.0,468.6L228.2,468.6L228.5,468.6L228.7,468.6L228.9,468.6L229.2,468.7L229.4,468.7L229.7,468.7L229.9,468.7L230.2,468.7L230.4,468.7L230.6,468.7L230.9,468.7L231.1,468.7L231.4,468.7L231.6,468.7L231.8,468.7L232.1,468.7L232.3,468.7L232.6,468.7L232.8,468.7L233.1,468.7L676.7,468.7" fill="none" stroke="#0000ff" stroke-width="1.1" stroke-dasharray="6.8 2.6 1.8 2.6" stroke-linejoin="round"/>
<path d="M32.5,67.5L454.4,67.5L454.6,67.5L454.9,67.5L455.1,67.5L455.4,67.5L455.6,67.5L455.8,67.4L456.1,67.4L456.3,67.4L456.6,67.4L456.8,67.4L457.1,67.3L457.3,67.3L457.5,67.3L457.8,67.3L458.0,67.3L458.3,67.3L458.5,67.3L458.7,67.3L459.0,67.4L459.2,67.4L459.5,67.5L459.7,67.5L460.0,67.6L460.2,67.6L460.4,67.7L460.7,67.7L460.9,67.8L461.2,67.9L461.4,67.9L461.6,67.9L461.9,68.0L462.1,68.0L462.4,68.0L462.6,67.9L462.9,67.9L463.1,67.8L463.3,67.8L463.6,67.7L463.8,67.5L464.1,67.4L464.3,67.3L464.5,67.1L464.8,66.9L465.0,66.8L465.3,66.6L465.5,66.5L465.8,66.4L466.0,66.3L466.2,66.2L466.5,66.1L466.7,66.1L467.0,66.1L467.2,66.2L467.4,66.3L467.7,66.5L467.9,66.7L468.2,67.0L468.4,67.2L468.7,67.6L468.9,67.9L469.1,68.2L469.4,68.6L469.6,68.9L469.9,69.3L470.1,69.6L470.3,69.9L470.6,70.1L470.8,70.3L471.1,70.4L471.3,70.5L471.6,70.5L471.8,70.4L472.0,70.2L472.3,69.9L472.5,69.6L472.8,69.1L473.0,68.6L473.2,68.1L473.5,67.4L473.7,66.8L474.0,66.1L474.2,65.3L474.5,64.6L474.7,63.9L474.9,63.2L475.2,62.6L475.4,62.0L475.7,61.6L475.9,61.2L476.1,61.0L476.4,61.0L476.6,61.0L476.9,61.3L477.1,61.7L477.4,62.3L477.6,63.1L477.8,63.9L478.1,64.9L478.3,66.1L478.6,67.2L478.8,68.5L479.0,69.8L479.3,71.0L479.5,72.3L479.8,73.5L480.0,74.6L480.3,75.6L480.5,76.5L480.7,77.2L481.0,77.8L481.2,78.2L481.5,78.5L481.7,78.5L481.9,78.4L482.2,78.0L482.4,77.5L482.7,76.7L482.9,75.8L483.2,74.6L483.4,73.3L483.6,71.7L483.9,70.0L484.1,68.2L484.4,66.2L484.6,64.1L484.8,62.0L485.1,59.8L485.3,57.7L485.6,55.6L485.8,53.7L486.0,51.9L486.3,50.4L486.5,49.1L486.8,48.2L487.0,47.6L487.3,47.4L487.5,47.6L487.7,48.2L488.0,49.2L488.2,50.6L488.5,52.4L488.7,54.5L488.9,56.8L489.2,59.5L489.4,62.3L489.7,65.2L489.9,68.1L490.2,71.1L490.4,74.0L490.6,76.8L490.9,79.5L491.1,82.0L491.4,84.3L491.6,86.3L491.8,88.1L492.1,89.6L492.3,90.8L492.6,91.8L492.8,92.5L493.1,92.9L493.3,93.0L493.5,92.8L493.8,92.4L494.0,91.6L494.3,90.6L494.5,89.2L494.7,87.6L495.0,85.6L495.2,83.3L495.5,80.7L495.7,77.8L496.0,74.5L496.2,71.1L496.4,67.4L496.7,63.5L496.9,59.5L497.2,55.5L497.4,51.4L497.6,47.5L497.9,43.7L498.1,40.1L498.4,36.9L498.6,34.1L498.9,31.7L499.1,29.9L499.3,28.6L499.6,28.0L499.8,28.0L500.1,28.7L500.3,29.9L500.5,31.8L500.8,34.3L501.0,37.3L501.3,40.7L501.5,44.5L501.8,48.6L502.0,53.0L502.2,57.5L502.5,62.1L502.7,66.6L503.0,71.1L503.2,75.4L503.4,79.6L503.7,83.5L503.9,87.1L504.2,90.4L504.4,93.4L504.7,96.1L504.9,98.4L505.1,100.4L505.4,102.1L505.6,103.4L505.9,104.5L506.1,105.3L506.3,105.8L506.6,106.0L506.8,105.9L507.1,105.6L507.3,105.0L507.6,104.1L507.8,102.8L508.0,101.3L508.3,99.5L508.5,97.4L508.8,94.9L509.0,92.1L509.2,88.9L509.5,85.5L509.7,81.7L510.0,77.7L510.2,73.4L510.5,69.0L510.7,64.3L510.9,59.6L511.2,54.9L511.4,50.1L511.7,45.5L511.9,41.1L512.1,36.8L512.4,32.9L512.6,29.4L512.9,26.2L513.1,23.6L513.4,21.4L513.6,19.8L513.8,18.8L514.1,18.3L514.3,18.5L514.6,19.2L514.8,20.5L515.0,22.3L515.3,24.7L515.5,27.4L515.8,30.6L516.0,34.1L516.3,37.9L516.5,42.0L516.7,46.2L517.0,50.5L517.2,54.9L517.5,59.3L517.7,63.6L517.9,67.9L518.2,72.0L518.4,76.0L518.7,79.7L518.9,83.2L519.2,86.5L519.4,89.6L519.6,92.4L519.9,94.9L520.1,97.2L520.4,99.2L520.6,101.0L520.8,102.5L521.1,103.7L521.3,104.8L521.6,105.6L521.8,106.1L522.1,106.5L522.3,106.6L522.5,106.5L522.8,106.2L523.0,105.6L523.3,104.9L523.5,103.9L523.7,102.7L524.0,101.3L524.2,99.7L524.5,97.9L524.7,95.8L525.0,93.6L525.2,91.1L525.4,88.5L525.7,85.7L525.9,82.7L526.2,79.6L526.4,76.3L526.6,73.0L526.9,69.6L527.1,66.2L527.4,62.7L527.6,59.3L527.9,56.0L528.1,52.7L528.3,49.5L528.6,46.5L528.8,43.6L529.1,40.9L529.3,38.5L529.5,36.3L529.8,34.4L530.0,32.7L530.3,31.4L530.5,30.3L530.8,29.6L531.0,29.1L531.2,29.0L531.5,29.2L531.7,29.6L532.0,30.4L532.2,31.4L532.4,32.6L532.7,34.1L532.9,35.8L533.2,37.7L533.4,39.7L533.7,41.9L533.9,44.3L534.1,46.7L534.4,49.2L534.6,51.8L534.9,54.3L535.1,56.9L535.3,59.5L535.6,62.1L535.8,64.6L536.1,67.1L536.3,69.5L536.6,71.9L536.8,74.1L537.0,76.2L537.3,78.3L537.5,80.2L537.8,82.0L538.0,83.7L538.2,85.2L538.5,86.6L538.7,87.9L539.0,89.1L539.2,90.1L539.5,91.0L539.7,91.8L539.9,92.4L540.2,92.9L540.4,93.3L540.7,93.6L540.9,93.7L541.1,93.7L541.4,93.6L541.6,93.4L541.9,93.1L542.1,92.6L542.4,92.0L542.6,91.4L542.8,90.6L543.1,89.7L543.3,88.7L543.6,87.7L543.8,86.5L544.0,85.3L544.3,84.0L544.5,82.7L544.8,81.3L545.0,79.8L545.3,78.3L545.5,76.7L545.7,75.1L546.0,73.5L546.2,71.9L546.5,70.3L546.7,68.7L546.9,67.1L547.2,65.5L547.4,63.9L547.7,62.4L547.9,61.0L548.1,59.6L548.4,58.2L548.6,56.9L548.9,55.7L549.1,54.6L549.4,53.5L549.6,52.5L549.8,51.7L550.1,50.9L550.3,50.2L550.6,49.6L550.8,49.1L551.0,48.7L551.3,48.4L551.5,48.2L551.8,48.1L552.0,48.1L552.3,48.2L552.5,48.4L552.7,48.7L553.0,49.0L553.2,49.4L553.5,49.9L553.7,50.5L553.9,51.1L554.2,51.8L554.4,52.5L554.7,53.3L554.9,54.1L555.2,55.0L555.4,55.9L555.6,56.8L555.9,57.7L556.1,58.7L556.4,59.6L556.6,60.6L556.8,61.6L557.1,62.6L557.3,63.6L557.6,64.5L557.8,65.5L558.1,66.4L558.3,67.3L558.5,68.2L558.8,69.1L559.0,69.9L559.3,70.7L559.5,71.5L559.7,72.2L560.0,73.0L560.2,73.6L560.5,74.3L560.7,74.8L561.0,75.4L561.2,75.9L561.4,76.4L561.7,76.8L561.9,77.2L562.2,77.5L562.4,77.8L562.6,78.1L562.9,78.3L563.1,78.5L563.4,78.6L563.6,78.7L563.9,78.7L564.1,78.7L564.3,78.7L564.6,78.6L564.8,78.5L565.1,78.4L565.3,78.2L565.5,78.0L565.8,77.8L566.0,77.5L566.3,77.3L566.5,76.9L566.8,76.6L567.0,76.2L567.2,75.9L567.5,75.5L567.7,75.0L568.0,74.6L568.2,74.2L568.4,73.7L568.7,73.2L568.9,72.7L569.2,72.3L569.4,71.8L569.7,71.3L569.9,70.8L570.1,70.3L570.4,69.8L570.6,69.3L570.9,68.8L571.1,68.3L571.3,67.8L571.6,67.4L571.8,66.9L572.1,66.5L572.3,66.0L572.6,65.6L572.8,65.2L573.0,64.8L573.3,64.5L573.5,64.1L573.8,63.8L574.0,63.5L574.2,63.2L574.5,62.9L574.7,62.6L575.0,62.4L575.2,62.2L575.5,62.0L575.7,61.8L575.9,61.7L576.2,61.5L576.4,61.4L576.7,61.3L576.9,61.3L577.1,61.2L577.4,61.2L577.6,61.2L577.9,61.2L578.1,61.2L578.4,61.2L578.6,61.3L578.8,61.4L579.1,61.5L579.3,61.6L579.6,61.7L579.8,61.8L580.0,62.0L580.3,62.1L580.5,62.3L580.8,62.4L581.0,62.6L581.3,62.8L581.5,63.0L581.7,63.2L582.0,63.4L582.2,63.7L582.5,63.9L582.7,64.1L582.9,64.3L583.2,64.6L583.4,64.8L583.7,65.0L583.9,65.3L584.2,65.5L584.4,65.7L584.6,66.0L584.9,66.2L585.1,66.4L585.4,66.7L585.6,66.9L585.8,67.1L586.1,67.3L586.3,67.5L586.6,67.7L586.8,67.9L587.1,68.1L587.3,68.3L587.5,68.5L587.8,68.6L588.0,68.8L588.3,69.0L588.5,69.1L588.7,69.3L589.0,69.4L589.2,69.5L589.5,69.6L589.7,69.7L590.0,69.9L590.2,69.9L590.4,70.0L590.7,70.1L590.9,70.2L591.2,70.3L591.4,70.3L591.6,70.4L591.9,70.4L592.1,70.4L592.4,70.5L592.6,70.5L592.9,70.5L593.1,70.5L593.3,70.5L593.6,70.5L593.8,70.5L594.1,70.5L594.3,70.4L594.5,70.4L594.8,70.4L595.0,70.3L595.3,70.3L595.5,70.2L595.8,70.2L596.0,70.1L596.2,70.0L596.5,70.0L596.7,69.9L597.0,69.8L597.2,69.8L597.4,69.7L597.7,69.6L597.9,69.5L598.2,69.4L598.4,69.3L598.7,69.2L598.9,69.1L599.1,69.0L599.4,69.0L599.6,68.9L599.9,68.8L600.1,68.7L600.3,68.6L600.6,68.5L600.8,68.4L601.1,68.3L601.3,68.2L601.6,68.1L601.8,68.0L602.0,67.9L602.3,67.8L602.5,67.7L602.8,67.7L603.0,67.6L603.2,67.5L603.5,67.4L603.7,67.3L604.0,67.3L604.2,67.2L604.5,67.1L604.7,67.0L604.9,67.0L605.2,66.9L605.4,66.9L605.7,66.8L605.9,66.7L606.1,66.7L606.4,66.6L606.6,66.6L606.9,66.5L607.1,66.5L607.4,66.5L607.6,66.4L607.8,66.4L608.1,66.4L608.3,66.3L608.6,66.3L608.8,66.3L609.0,66.3L609.3,66.2L609.5,66.2L609.8,66.2L610.0,66.2L610.3,66.2L610.5,66.2L610.7,66.2L611.0,66.2L611.2,66.2L611.5,66.2L611.7,66.2L611.9,66.2L612.2,66.2L612.4,66.2L612.7,66.2L612.9,66.3L613.1,66.3L613.4,66.3L613.6,66.3L613.9,66.3L614.1,66.3L614.4,66.4L614.6,66.4L614.8,66.4L615.1,66.5L615.3,66.5L615.6,66.5L615.8,66.5L616.0,66.6L616.3,66.6L616.5,66.6L616.8,66.7L617.0,66.7L617.3,66.7L617.5,66.8L617.7,66.8L618.0,66.8L618.2,66.9L618.5,66.9L618.7,66.9L618.9,67.0L619.2,67.0L619.4,67.0L619.7,67.1L619.9,67.1L620.2,67.1L620.4,67.2L620.6,67.2L620.9,67.2L621.1,67.3L621.4,67.3L621.6,67.3L621.8,67.4L622.1,67.4L622.3,67.4L622.6,67.5L622.8,67.5L623.1,67.5L623.3,67.5L623.5,67.6L623.8,67.6L624.0,67.6L624.3,67.6L624.5,67.7L624.7,67.7L625.0,67.7L625.2,67.7L625.5,67.8L625.7,67.8L626.0,67.8L626.2,67.8L626.4,67.8L626.7,67.8L626.9,67.9L627.2,67.9L627.4,67.9L627.6,67.9L627.9,67.9L628.1,67.9L628.4,67.9L628.6,67.9L628.9,67.9L629.1,68.0L629.3,68.0L629.6,68.0L629.8,68.0L630.1,68.0L630.3,68.0L630.5,68.0L630.8,68.0L631.0,68.0L631.3,68.0L631.5,68.0L631.8,68.0L632.0,68.0L632.2,68.0L632.5,68.0L632.7,68.0L633.0,68.0L633.2,68.0L633.4,68.0L633.7,68.0L633.9,68.0L634.2,68.0L634.4,68.0L634.7,67.9L634.9,67.9L635.1,67.9L635.4,67.9L635.6,67.9L635.9,67.9L636.1,67.9L636.3,67.9L636.6,67.9L636.8,67.9L637.1,67.9L637.3,67.9L637.6,67.8L637.8,67.8L638.0,67.8L638.3,67.8L638.5,67.8L638.8,67.8L639.0,67.8L639.2,67.8L639.5,67.8L639.7,67.8L640.0,67.7L640.2,67.7L640.5,67.7L640.7,67.7L640.9,67.7L641.2,67.7L641.4,67.7L641.7,67.7L641.9,67.7L642.1,67.6L642.4,67.6L642.6,67.6L642.9,67.6L643.1,67.6L643.4,67.6L643.6,67.6L643.8,67.6L644.1,67.6L644.3,67.6L644.6,67.5L644.8,67.5L645.0,67.5L645.3,67.5L645.5,67.5L645.8,67.5L646.0,67.5L646.3,67.5L646.5,67.5L646.7,67.5L647.0,67.5L647.2,67.5L647.5,67.4L647.7,67.4L647.9,67.4L648.2,67.4L648.4,67.4L648.7,67.4L648.9,67.4L649.2,67.4L649.4,67.4L649.6,67.4L649.9,67.4L650.1,67.4L650.4,67.4L650.6,67.4L650.8,67.4L651.1,67.4L651.3,67.4L651.6,67.4L651.8,67.4L652.1,67.4L652.3,67.3L652.5,67.3L652.8,67.3L653.0,67.3L653.3,67.3L653.5,67.3L653.7,67.3L654.0,67.3L654.2,67.3L654.5,67.3L654.7,67.3L655.0,67.3L655.2,67.3L655.4,67.3L655.7,67.3L655.9,67.3L656.2,67.3L656.4,67.3L656.6,67.3L656.9,67.3L657.1,67.3L657.4,67.3L657.6,67.3L657.9,67.3L658.1,67.3L658.3,67.3L658.6,67.3L658.8,67.3L659.1,67.3L659.3,67.3L659.5,67.3L659.8,67.3L660.0,67.3L660.3,67.3L660.5,67.4L660.8,67.4L661.0,67.4L661.2,67.4L661.5,67.4L661.7,67.4L662.0,67.4L662.2,67.4L662.4,67.4L662.7,67.4L662.9,67.4L663.2,67.4L663.4,67.4L663.7,67.4L663.9,67.4L664.1,67.4L664.4,67.4L664.6,67.4L664.9,67.4L665.1,67.4L665.3,67.4L665.6,67.4L665.8,67.4L666.1,67.4L666.3,67.4L666.6,67.4L666.8,67.4L667.0,67.4L667.3,67.4L667.5,67.4L667.8,67.4L668.0,67.4L668.2,67.4L668.5,67.4L668.7,67.4L669.0,67.4L669.2,67.5L669.5,67.5L669.7,67.5L669.9,67.5L670.2,67.5L670.4,67.5L670.7,67.5L670.9,67.5L676.7,67.5" fill="none" stroke="#000000" stroke-width="1.1" stroke-linejoin="round"/>
<path d="M32.5,167.8L392.1,167.8L392.3,167.8L392.5,167.8L392.8,167.8L393.0,167.8L393.3,167.8L393.5,167.8L393.7,167.7L394.0,167.7L394.2,167.7L394.5,167.7L394.7,167.7L395.0,167.7L395.2,167.7L395.4,167.7L395.7,167.7L395.9,167.7L396.2,167.6L396.4,167.6L396.6,167.6L396.9,167.6L397.1,167.6L397.4,167.6L397.6,167.6L397.9,167.6L398.1,167.6L398.3,167.6L398.6,167.6L398.8,167.6L399.1,167.7L399.3,167.7L399.5,167.8L399.8,167.8L400.0,167.9L400.3,168.0L400.5,168.1L400.8,168.2L401.0,168.2L401.2,168.3L401.5,168.4L401.7,168.5L402.0,168.6L402.2,168.7L402.4,168.7L402.7,168.7L402.9,168.8L403.2,168.7L403.4,168.7L403.7,168.6L403.9,168.5L404.1,168.4L404.4,168.2L404.6,168.0L404.9,167.7L405.1,167.4L405.3,167.1L405.6,166.7L405.8,166.3L406.1,165.9L406.3,165.5L406.6,165.0L406.8,164.6L407.0,164.2L407.3,163.8L407.5,163.5L407.8,163.2L408.0,163.0L408.2,162.9L408.5,162.8L408.7,162.9L409.0,163.1L409.2,163.4L409.5,163.9L409.7,164.5L409.9,165.2L410.2,166.0L410.4,166.9L410.7,168.0L410.9,169.1L411.1,170.3L411.4,171.6L411.6,172.8L411.9,174.1L412.1,175.3L412.4,176.5L412.6,177.5L412.8,178.5L413.1,179.4L413.3,180.1L413.6,180.6L413.8,181.0L414.0,181.2L414.3,181.2L414.5,181.0L414.8,180.5L415.0,179.8L415.3,178.9L415.5,177.7L415.7,176.3L416.0,174.7L416.2,172.8L416.5,170.6L416.7,168.2L416.9,165.6L417.2,162.9L417.4,159.9L417.7,156.8L417.9,153.7L418.2,150.6L418.4,147.5L418.6,144.5L418.9,141.8L419.1,139.3L419.4,137.2L419.6,135.6L419.8,134.4L420.1,133.8L420.3,133.8L420.6,134.4L420.8,135.7L421.0,137.6L421.3,140.1L421.5,143.2L421.8,146.8L422.0,150.8L422.3,155.1L422.5,159.8L422.7,164.6L423.0,169.4L423.2,174.3L423.5,179.0L423.7,183.6L423.9,187.9L424.2,191.9L424.4,195.5L424.7,198.8L424.9,201.7L425.2,204.1L425.4,206.2L425.6,208.0L425.9,209.4L426.1,210.4L426.4,211.1L426.6,211.5L426.8,211.6L427.1,211.5L427.3,211.0L427.6,210.2L427.8,209.0L428.1,207.5L428.3,205.6L428.5,203.3L428.8,200.6L429.0,197.4L429.3,193.8L429.5,189.6L429.7,185.0L430.0,180.0L430.2,174.6L430.5,168.8L430.7,162.7L431.0,156.5L431.2,150.1L431.4,143.7L431.7,137.5L431.9,131.5L432.2,125.8L432.4,120.5L432.6,115.8L432.9,111.7L433.1,108.3L433.4,105.7L433.6,103.9L433.9,103.0L434.1,102.9L434.3,103.6L434.6,105.2L434.8,107.6L435.1,110.6L435.3,114.4L435.5,118.6L435.8,123.4L436.0,128.6L436.3,134.0L436.5,139.7L436.8,145.5L437.0,151.3L437.2,157.0L437.5,162.6L437.7,168.1L438.0,173.3L438.2,178.2L438.4,182.9L438.7,187.2L438.9,191.1L439.2,194.7L439.4,198.0L439.7,200.9L439.9,203.5L440.1,205.8L440.4,207.7L440.6,209.4L440.9,210.8L441.1,211.9L441.3,212.7L441.6,213.4L441.8,213.7L442.1,213.9L442.3,213.8L442.6,213.5L442.8,213.0L443.0,212.2L443.3,211.2L443.5,210.0L443.8,208.6L444.0,206.9L444.2,205.0L444.5,202.9L444.7,200.5L445.0,198.0L445.2,195.3L445.5,192.4L445.7,189.3L445.9,186.1L446.2,182.8L446.4,179.4L446.7,175.9L446.9,172.4L447.1,168.9L447.4,165.5L447.6,162.1L447.9,158.8L448.1,155.6L448.4,152.5L448.6,149.6L448.8,146.9L449.1,144.4L449.3,142.1L449.6,140.1L449.8,138.3L450.0,136.8L450.3,135.5L450.5,134.5L450.8,133.7L451.0,133.2L451.3,133.0L451.5,133.0L451.7,133.2L452.0,133.6L452.2,134.3L452.5,135.1L452.7,136.1L452.9,137.3L453.2,138.6L453.4,140.0L453.7,141.5L453.9,143.2L454.2,144.9L454.4,146.6L454.6,148.4L454.9,150.3L455.1,152.1L455.4,153.9L455.6,155.8L455.8,157.6L456.1,159.4L456.3,161.2L456.6,162.9L456.8,164.5L457.1,166.1L457.3,167.7L457.5,169.1L457.8,170.6L458.0,171.9L458.3,173.2L458.5,174.3L458.7,175.4L459.0,176.5L459.2,177.4L459.5,178.3L459.7,179.1L460.0,179.8L460.2,180.4L460.4,181.0L460.7,181.4L460.9,181.9L461.2,182.2L461.4,182.5L461.6,182.7L461.9,182.8L462.1,182.8L462.4,182.9L462.6,182.8L462.9,182.7L463.1,182.5L463.3,182.3L463.6,182.0L463.8,181.7L464.1,181.4L464.3,181.0L464.5,180.6L464.8,180.1L465.0,179.6L465.3,179.1L465.5,178.6L465.8,178.0L466.0,177.4L466.2,176.8L466.5,176.2L466.7,175.6L467.0,175.0L467.2,174.4L467.4,173.7L467.7,173.1L467.9,172.5L468.2,171.9L468.4,171.3L468.7,170.7L468.9,170.1L469.1,169.5L469.4,169.0L469.6,168.5L469.9,167.9L470.1,167.5L470.3,167.0L470.6,166.5L470.8,166.1L471.1,165.7L471.3,165.3L471.6,165.0L471.8,164.6L472.0,164.3L472.3,164.0L472.5,163.8L472.8,163.6L473.0,163.3L473.2,163.2L473.5,163.0L473.7,162.8L474.0,162.7L474.2,162.6L474.5,162.5L474.7,162.5L474.9,162.4L475.2,162.4L475.4,162.4L475.7,162.4L475.9,162.4L476.1,162.5L476.4,162.5L476.6,162.6L476.9,162.7L477.1,162.8L477.4,162.9L477.6,163.0L477.8,163.1L478.1,163.2L478.3,163.4L478.6,163.5L478.8,163.7L479.0,163.8L479.3,164.0L479.5,164.1L479.8,164.3L480.0,164.5L480.3,164.6L480.5,164.8L480.7,164.9L481.0,165.1L481.2,165.3L481.5,165.4L481.7,165.6L481.9,165.8L482.2,165.9L482.4,166.1L482.7,166.2L482.9,166.4L483.2,166.5L483.4,166.7L483.6,166.8L483.9,167.0L484.1,167.1L484.4,167.2L484.6,167.3L484.8,167.5L485.1,167.6L485.3,167.7L485.6,167.8L485.8,167.9L486.0,168.0L486.3,168.1L486.5,168.2L486.8,168.2L487.0,168.3L487.3,168.4L487.5,168.5L487.7,168.5L488.0,168.6L488.2,168.6L488.5,168.7L488.7,168.7L488.9,168.8L489.2,168.8L489.4,168.9L489.7,168.9L489.9,168.9L490.2,168.9L490.4,169.0L490.6,169.0L490.9,169.0L491.1,169.0L491.4,169.0L491.6,169.0L491.8,169.0L492.1,169.0L492.3,169.0L492.6,169.0L492.8,169.0L493.1,169.0L493.3,169.0L493.5,169.0L493.8,168.9L494.0,168.9L494.3,168.9L494.5,168.9L494.7,168.9L495.0,168.8L495.2,168.8L495.5,168.8L495.7,168.8L496.0,168.7L496.2,168.7L496.4,168.7L496.7,168.7L496.9,168.6L497.2,168.6L497.4,168.6L497.6,168.6L497.9,168.5L498.1,168.5L498.4,168.5L498.6,168.4L498.9,168.4L499.1,168.4L499.3,168.4L499.6,168.3L499.8,168.3L500.1,168.3L500.3,168.3L500.5,168.2L500.8,168.2L501.0,168.2L501.3,168.1L501.5,168.1L501.8,168.1L502.0,168.1L502.2,168.1L502.5,168.0L502.7,168.0L503.0,168.0L503.2,168.0L503.4,167.9L503.7,167.9L503.9,167.9L504.2,167.9L504.4,167.9L504.7,167.9L504.9,167.8L505.1,167.8L505.4,167.8L505.6,167.8L505.9,167.8L506.1,167.8L506.3,167.8L506.6,167.7L506.8,167.7L507.1,167.7L507.3,167.7L507.6,167.7L507.8,167.7L508.0,167.7L508.3,167.7L508.5,167.7L508.8,167.7L509.0,167.7L509.2,167.6L509.5,167.6L509.7,167.6L510.0,167.6L510.2,167.6L510.5,167.6L510.7,167.6L510.9,167.6L511.2,167.6L511.4,167.6L511.7,167.6L511.9,167.6L512.1,167.6L512.4,167.6L512.6,167.6L512.9,167.6L513.1,167.6L513.4,167.6L513.6,167.6L513.8,167.6L514.1,167.6L514.3,167.6L514.6,167.6L514.8,167.6L515.0,167.6L515.3,167.6L515.5,167.6L515.8,167.6L516.0,167.6L516.3,167.6L516.5,167.6L516.7,167.6L517.0,167.6L517.2,167.6L517.5,167.6L517.7,167.6L517.9,167.6L518.2,167.6L518.4,167.6L518.7,167.6L518.9,167.6L519.2,167.6L519.4,167.6L519.6,167.6L519.9,167.7L520.1,167.7L520.4,167.7L520.6,167.7L520.8,167.7L521.1,167.7L521.3,167.7L521.6,167.7L521.8,167.7L522.1,167.7L522.3,167.7L522.5,167.7L522.8,167.7L523.0,167.7L523.3,167.7L523.5,167.7L523.7,167.7L524.0,167.7L524.2,167.7L524.5,167.7L524.7,167.7L525.0,167.7L525.2,167.7L525.4,167.7L525.7,167.7L525.9,167.7L526.2,167.7L526.4,167.7L526.6,167.7L526.9,167.7L527.1,167.7L527.4,167.7L527.6,167.7L527.9,167.7L528.1,167.7L528.3,167.8L528.6,167.8L528.8,167.8L529.1,167.8L529.3,167.8L529.5,167.8L529.8,167.8L530.0,167.8L530.3,167.8L530.5,167.8L676.7,167.8" fill="none" stroke="#000000" stroke-width="1.1" stroke-linejoin="round"/>
<path d="M32.5,268.1L304.1,268.1L304.3,268.1L304.6,268.1L304.8,268.1L305.1,268.1L305.3,268.1L305.5,268.1L305.8,268.1L306.0,268.1L306.3,268.1L306.5,268.1L306.8,268.1L307.0,268.1L307.2,268.1L307.5,268.1L307.7,268.1L308.0,268.0L308.2,268.0L308.4,268.0L308.7,268.0L308.9,268.0L309.2,268.0L309.4,268.0L309.7,268.0L309.9,268.0L310.1,268.0L310.4,268.0L310.6,268.0L310.9,268.0L311.1,268.0L311.3,268.0L311.6,268.0L311.8,268.0L312.1,268.0L312.3,268.0L312.6,268.0L312.8,268.0L313.0,268.0L313.3,268.0L313.5,268.0L313.8,268.0L314.0,268.0L314.2,268.0L314.5,268.0L314.7,268.0L315.0,268.0L315.2,268.0L315.5,268.0L315.7,268.0L315.9,268.0L316.2,268.0L316.4,268.0L316.7,268.0L316.9,268.0L317.1,268.0L317.4,268.0L317.6,268.0L317.9,268.0L318.1,268.0L318.4,268.0L318.6,268.0L318.8,268.0L319.1,268.0L319.3,268.1L319.6,268.1L319.8,268.1L320.0,268.1L320.3,268.1L320.5,268.1L320.8,268.1L321.0,268.2L321.3,268.2L321.5,268.2L321.7,268.2L322.0,268.3L322.2,268.3L322.5,268.3L322.7,268.4L322.9,268.4L323.2,268.4L323.4,268.5L323.7,268.5L323.9,268.6L324.2,268.6L324.4,268.7L324.6,268.7L324.9,268.8L325.1,268.9L325.4,268.9L325.6,269.0L325.8,269.1L326.1,269.1L326.3,269.2L326.6,269.3L326.8,269.4L327.1,269.4L327.3,269.5L327.5,269.6L327.8,269.6L328.0,269.7L328.3,269.8L328.5,269.8L328.7,269.8L329.0,269.9L329.2,269.9L329.5,269.9L329.7,269.9L330.0,269.9L330.2,269.8L330.4,269.8L330.7,269.7L330.9,269.6L331.2,269.4L331.4,269.3L331.6,269.1L331.9,268.8L332.1,268.6L332.4,268.3L332.6,267.9L332.9,267.5L333.1,267.1L333.3,266.7L333.6,266.2L333.8,265.6L334.1,265.0L334.3,264.4L334.5,263.7L334.8,263.0L335.0,262.2L335.3,261.4L335.5,260.6L335.8,259.8L336.0,258.9L336.2,258.0L336.5,257.1L336.7,256.2L337.0,255.3L337.2,254.5L337.4,253.7L337.7,252.9L337.9,252.2L338.2,251.6L338.4,251.1L338.7,250.7L338.9,250.4L339.1,250.3L339.4,250.4L339.6,250.6L339.9,251.1L340.1,251.8L340.3,252.7L340.6,253.9L340.8,255.3L341.1,257.0L341.3,258.9L341.6,261.0L341.8,263.4L342.0,266.0L342.3,268.7L342.5,271.7L342.8,274.7L343.0,277.9L343.2,281.1L343.5,284.3L343.7,287.6L344.0,290.7L344.2,293.8L344.5,296.7L344.7,299.4L344.9,302.0L345.2,304.3L345.4,306.4L345.7,308.3L345.9,309.9L346.1,311.2L346.4,312.2L346.6,313.0L346.9,313.5L347.1,313.8L347.4,313.8L347.6,313.6L347.8,313.0L348.1,312.2L348.3,311.1L348.6,309.7L348.8,307.9L349.0,305.7L349.3,303.1L349.5,300.0L349.8,296.4L350.0,292.3L350.3,287.7L350.5,282.5L350.7,276.7L351.0,270.4L351.2,263.7L351.5,256.5L351.7,249.0L351.9,241.4L352.2,233.6L352.4,225.9L352.7,218.5L352.9,211.4L353.2,204.9L353.4,199.0L353.6,194.0L353.9,190.0L354.1,187.1L354.4,185.2L354.6,184.6L354.8,185.2L355.1,187.1L355.3,190.0L355.6,194.0L355.8,199.0L356.0,204.9L356.3,211.4L356.5,218.5L356.8,225.9L357.0,233.6L357.3,241.4L357.5,249.0L357.7,256.5L358.0,263.7L358.2,270.4L358.5,276.7L358.7,282.5L358.9,287.7L359.2,292.3L359.4,296.4L359.7,300.0L359.9,303.1L360.2,305.7L360.4,307.9L360.6,309.7L360.9,311.1L361.1,312.2L361.4,313.0L361.6,313.6L361.8,313.8L362.1,313.8L362.3,313.5L362.6,313.0L362.8,312.2L363.1,311.2L363.3,309.9L363.5,308.3L363.8,306.4L364.0,304.3L364.3,302.0L364.5,299.4L364.7,296.7L365.0,293.8L365.2,290.7L365.5,287.6L365.7,284.3L366.0,281.1L366.2,277.9L366.4,274.7L366.7,271.7L366.9,268.7L367.2,266.0L367.4,263.4L367.6,261.0L367.9,258.9L368.1,257.0L368.4,255.3L368.6,253.9L368.9,252.7L369.1,251.8L369.3,251.1L369.6,250.6L369.8,250.4L370.1,250.3L370.3,250.4L370.5,250.7L370.8,251.1L371.0,251.6L371.3,252.2L371.5,252.9L371.8,253.7L372.0,254.5L372.2,255.3L372.5,256.2L372.7,257.1L373.0,258.0L373.2,258.9L373.4,259.8L373.7,260.6L373.9,261.4L374.2,262.2L374.4,263.0L374.7,263.7L374.9,264.4L375.1,265.0L375.4,265.6L375.6,266.2L375.9,266.7L376.1,267.1L376.3,267.5L376.6,267.9L376.8,268.3L377.1,268.6L377.3,268.8L377.6,269.1L377.8,269.3L378.0,269.4L378.3,269.6L378.5,269.7L378.8,269.8L379.0,269.8L379.2,269.9L379.5,269.9L379.7,269.9L380.0,269.9L380.2,269.9L380.5,269.8L380.7,269.8L380.9,269.8L381.2,269.7L381.4,269.6L381.7,269.6L381.9,269.5L382.1,269.4L382.4,269.4L382.6,269.3L382.9,269.2L383.1,269.1L383.4,269.1L383.6,269.0L383.8,268.9L384.1,268.9L384.3,268.8L384.6,268.7L384.8,268.7L385.0,268.6L385.3,268.6L385.5,268.5L385.8,268.5L386.0,268.4L386.3,268.4L386.5,268.4L386.7,268.3L387.0,268.3L387.2,268.3L387.5,268.2L387.7,268.2L387.9,268.2L388.2,268.2L388.4,268.1L388.7,268.1L388.9,268.1L389.2,268.1L389.4,268.1L389.6,268.1L389.9,268.1L390.1,268.0L390.4,268.0L390.6,268.0L390.8,268.0L391.1,268.0L391.3,268.0L391.6,268.0L391.8,268.0L392.1,268.0L392.3,268.0L392.5,268.0L392.8,268.0L393.0,268.0L393.3,268.0L393.5,268.0L393.7,268.0L394.0,268.0L394.2,268.0L394.5,268.0L394.7,268.0L395.0,268.0L395.2,268.0L395.4,268.0L395.7,268.0L395.9,268.0L396.2,268.0L396.4,268.0L396.6,268.0L396.9,268.0L397.1,268.0L397.4,268.0L397.6,268.0L397.9,268.0L398.1,268.0L398.3,268.0L398.6,268.0L398.8,268.0L399.1,268.0L399.3,268.0L399.5,268.0L399.8,268.0L400.0,268.0L400.3,268.0L400.5,268.0L400.8,268.0L401.0,268.0L401.2,268.0L401.5,268.1L401.7,268.1L402.0,268.1L402.2,268.1L402.4,268.1L402.7,268.1L402.9,268.1L403.2,268.1L403.4,268.1L403.7,268.1L403.9,268.1L404.1,268.1L404.4,268.1L404.6,268.1L404.9,268.1L405.1,268.1L676.7,268.1" fill="none" stroke="#000000" stroke-width="1.1" stroke-linejoin="round"/>
<path d="M32.5,368.4L178.7,368.4L178.9,368.4L179.2,368.4L179.4,368.4L179.7,368.4L179.9,368.4L180.1,368.4L180.4,368.4L180.6,368.4L180.9,368.4L181.1,368.3L181.3,368.3L181.6,368.3L181.8,368.3L182.1,368.3L182.3,368.3L182.6,368.3L182.8,368.3L183.0,368.3L183.3,368.3L183.5,368.3L183.8,368.3L184.0,368.3L184.2,368.3L184.5,368.3L184.7,368.3L185.0,368.3L185.2,368.3L185.5,368.3L185.7,368.3L185.9,368.3L186.2,368.3L186.4,368.3L186.7,368.3L186.9,368.3L187.1,368.3L187.4,368.3L187.6,368.3L187.9,368.3L188.1,368.3L188.4,368.3L188.6,368.3L188.8,368.3L189.1,368.3L189.3,368.3L189.6,368.2L189.8,368.2L190.0,368.2L190.3,368.2L190.5,368.2L190.8,368.2L191.0,368.2L191.3,368.2L191.5,368.2L191.7,368.2L192.0,368.2L192.2,368.2L192.5,368.2L192.7,368.2L192.9,368.2L193.2,368.2L193.4,368.2L193.7,368.2L193.9,368.2L194.2,368.2L194.4,368.2L194.6,368.2L194.9,368.2L195.1,368.2L195.4,368.2L195.6,368.2L195.8,368.2L196.1,368.2L196.3,368.2L196.6,368.2L196.8,368.2L197.1,368.2L197.3,368.2L197.5,368.2L197.8,368.2L198.0,368.2L198.3,368.2L198.5,368.2L198.7,368.2L199.0,368.2L199.2,368.2L199.5,368.2L199.7,368.2L200.0,368.2L200.2,368.3L200.4,368.3L200.7,368.3L200.9,368.3L201.2,368.3L201.4,368.3L201.6,368.3L201.9,368.3L202.1,368.3L202.4,368.3L202.6,368.3L202.9,368.4L203.1,368.4L203.3,368.4L203.6,368.4L203.8,368.4L204.1,368.4L204.3,368.4L204.5,368.5L204.8,368.5L205.0,368.5L205.3,368.5L205.5,368.5L205.8,368.5L206.0,368.6L206.2,368.6L206.5,368.6L206.7,368.6L207.0,368.7L207.2,368.7L207.4,368.7L207.7,368.7L207.9,368.7L208.2,368.8L208.4,368.8L208.7,368.8L208.9,368.9L209.1,368.9L209.4,368.9L209.6,368.9L209.9,369.0L210.1,369.0L210.3,369.0L210.6,369.0L210.8,369.1L211.1,369.1L211.3,369.1L211.6,369.2L211.8,369.2L212.0,369.2L212.3,369.2L212.5,369.3L212.8,369.3L213.0,369.3L213.2,369.3L213.5,369.4L213.7,369.4L214.0,369.4L214.2,369.4L214.5,369.5L214.7,369.5L214.9,369.5L215.2,369.5L215.4,369.5L215.7,369.6L215.9,369.6L216.1,369.6L216.4,369.6L216.6,369.6L216.9,369.6L217.1,369.6L217.4,369.6L217.6,369.6L217.8,369.6L218.1,369.6L218.3,369.6L218.6,369.6L218.8,369.6L219.0,369.5L219.3,369.5L219.5,369.5L219.8,369.5L220.0,369.4L220.3,369.4L220.5,369.3L220.7,369.3L221.0,369.2L221.2,369.2L221.5,369.1L221.7,369.1L221.9,369.0L222.2,368.9L222.4,368.8L222.7,368.8L222.9,368.7L223.2,368.6L223.4,368.5L223.6,368.4L223.9,368.3L224.1,368.2L224.4,368.1L224.6,367.9L224.8,367.8L225.1,367.7L225.3,367.6L225.6,367.4L225.8,367.3L226.0,367.1L226.3,367.0L226.5,366.8L226.8,366.7L227.0,366.5L227.3,366.4L227.5,366.2L227.7,366.0L228.0,365.9L228.2,365.7L228.5,365.5L228.7,365.4L228.9,365.2L229.2,365.1L229.4,364.9L229.7,364.7L229.9,364.6L230.2,364.4L230.4,364.3L230.6,364.1L230.9,364.0L231.1,363.8L231.4,363.7L231.6,363.6L231.8,363.5L232.1,363.4L232.3,363.3L232.6,363.2L232.8,363.1L233.1,363.1L233.3,363.0L233.5,363.0L233.8,363.0L234.0,363.0L234.3,363.0L234.5,363.1L234.7,363.1L235.0,363.2L235.2,363.3L235.5,363.4L235.7,363.6L236.0,363.8L236.2,363.9L236.4,364.2L236.7,364.4L236.9,364.6L237.2,364.9L237.4,365.2L237.6,365.6L237.9,365.9L238.1,366.3L238.4,366.7L238.6,367.1L238.9,367.6L239.1,368.1L239.3,368.5L239.6,369.1L239.8,369.6L240.1,370.1L240.3,370.7L240.5,371.3L240.8,371.9L241.0,372.5L241.3,373.1L241.5,373.7L241.8,374.3L242.0,375.0L242.2,375.6L242.5,376.2L242.7,376.8L243.0,377.4L243.2,378.0L243.4,378.6L243.7,379.2L243.9,379.7L244.2,380.2L244.4,380.7L244.7,381.2L244.9,381.6L245.1,382.0L245.4,382.3L245.6,382.6L245.9,382.9L246.1,383.1L246.3,383.3L246.6,383.4L246.8,383.5L247.1,383.4L247.3,383.4L247.6,383.3L247.8,383.1L248.0,382.8L248.3,382.5L248.5,382.0L248.8,381.6L249.0,381.0L249.2,380.4L249.5,379.7L249.7,378.9L250.0,378.0L250.2,377.1L250.5,376.0L250.7,374.9L250.9,373.8L251.2,372.5L251.4,371.2L251.7,369.7L251.9,368.3L252.1,366.7L252.4,365.1L252.6,363.5L252.9,361.8L253.1,360.0L253.4,358.2L253.6,356.4L253.8,354.5L254.1,352.7L254.3,350.9L254.6,349.0L254.8,347.2L255.0,345.5L255.3,343.8L255.5,342.1L255.8,340.6L256.0,339.2L256.3,337.9L256.5,336.7L256.7,335.7L257.0,334.9L257.2,334.2L257.5,333.8L257.7,333.6L257.9,333.6L258.2,333.8L258.4,334.3L258.7,335.1L258.9,336.1L259.2,337.4L259.4,338.9L259.6,340.7L259.9,342.7L260.1,345.0L260.4,347.5L260.6,350.2L260.8,353.1L261.1,356.2L261.3,359.4L261.6,362.7L261.8,366.1L262.1,369.5L262.3,373.0L262.5,376.5L262.8,380.0L263.0,383.4L263.3,386.7L263.5,389.9L263.7,393.0L264.0,395.9L264.2,398.6L264.5,401.1L264.7,403.5L265.0,405.6L265.2,407.5L265.4,409.2L265.7,410.6L265.9,411.8L266.2,412.8L266.4,413.6L266.6,414.1L266.9,414.4L267.1,414.5L267.4,414.3L267.6,414.0L267.9,413.3L268.1,412.5L268.3,411.4L268.6,410.0L268.8,408.3L269.1,406.4L269.3,404.1L269.5,401.5L269.8,398.6L270.0,395.3L270.3,391.7L270.5,387.8L270.8,383.5L271.0,378.8L271.2,373.9L271.5,368.7L271.7,363.2L272.0,357.6L272.2,351.9L272.4,346.1L272.7,340.3L272.9,334.6L273.2,329.2L273.4,324.0L273.7,319.2L273.9,315.0L274.1,311.2L274.4,308.2L274.6,305.8L274.9,304.2L275.1,303.5L275.3,303.6L275.6,304.5L275.8,306.3L276.1,308.9L276.3,312.3L276.6,316.4L276.8,321.1L277.0,326.4L277.3,332.1L277.5,338.1L277.8,344.3L278.0,350.7L278.2,357.1L278.5,363.3L278.7,369.4L279.0,375.2L279.2,380.6L279.5,385.6L279.7,390.2L279.9,394.4L280.2,398.0L280.4,401.2L280.7,403.9L280.9,406.2L281.1,408.1L281.4,409.6L281.6,410.8L281.9,411.6L282.1,412.1L282.4,412.2L282.6,412.1L282.8,411.7L283.1,411.0L283.3,410.0L283.6,408.6L283.8,406.8L284.0,404.7L284.3,402.3L284.5,399.4L284.8,396.1L285.0,392.5L285.3,388.5L285.5,384.2L285.7,379.6L286.0,374.9L286.2,370.0L286.5,365.2L286.7,360.4L286.9,355.7L287.2,351.4L287.4,347.4L287.7,343.8L287.9,340.7L288.2,338.2L288.4,336.3L288.6,335.0L288.9,334.4L289.1,334.4L289.4,335.0L289.6,336.2L289.8,337.8L290.1,339.9L290.3,342.4L290.6,345.1L290.8,348.1L291.0,351.2L291.3,354.3L291.5,357.4L291.8,360.5L292.0,363.5L292.3,366.2L292.5,368.8L292.7,371.2L293.0,373.4L293.2,375.3L293.5,376.9L293.7,378.3L293.9,379.5L294.2,380.4L294.4,381.1L294.7,381.6L294.9,381.8L295.2,381.8L295.4,381.6L295.6,381.2L295.9,380.7L296.1,380.0L296.4,379.1L296.6,378.1L296.8,377.1L297.1,375.9L297.3,374.7L297.6,373.4L297.8,372.2L298.1,370.9L298.3,369.7L298.5,368.6L298.8,367.5L299.0,366.6L299.3,365.8L299.5,365.1L299.7,364.5L300.0,364.0L300.2,363.7L300.5,363.5L300.7,363.4L301.0,363.5L301.2,363.6L301.4,363.8L301.7,364.1L301.9,364.4L302.2,364.8L302.4,365.2L302.6,365.6L302.9,366.1L303.1,366.5L303.4,366.9L303.6,367.3L303.9,367.7L304.1,368.0L304.3,368.3L304.6,368.6L304.8,368.8L305.1,369.0L305.3,369.1L305.5,369.2L305.8,369.3L306.0,369.3L306.3,369.4L306.5,369.3L306.8,369.3L307.0,369.3L307.2,369.2L307.5,369.1L307.7,369.0L308.0,368.9L308.2,368.8L308.4,368.8L308.7,368.7L308.9,368.6L309.2,368.5L309.4,368.4L309.7,368.4L309.9,368.3L310.1,368.3L310.4,368.2L310.6,368.2L310.9,368.2L311.1,368.2L311.3,368.2L311.6,368.2L311.8,368.2L312.1,368.2L312.3,368.2L312.6,368.2L312.8,368.2L313.0,368.2L313.3,368.3L313.5,368.3L313.8,368.3L314.0,368.3L314.2,368.3L314.5,368.3L314.7,368.3L315.0,368.3L315.2,368.3L315.5,368.3L315.7,368.4L315.9,368.4L316.2,368.4L316.4,368.4L316.7,368.4L316.9,368.4L317.1,368.4L676.7,368.4" fill="none" stroke="#000000" stroke-width="1.1" stroke-linejoin="round"/>
<path d="M32.5,468.7L38.3,468.7L38.5,468.7L38.8,468.7L39.0,468.7L39.3,468.7L39.5,468.7L39.7,468.7L40.0,468.7L40.2,468.6L40.5,468.6L40.7,468.6L41.0,468.6L41.2,468.6L41.4,468.6L41.7,468.6L41.9,468.6L42.2,468.6L42.4,468.6L42.6,468.6L42.9,468.6L43.1,468.6L43.4,468.6L43.6,468.6L43.9,468.6L44.1,468.6L44.3,468.6L44.6,468.6L44.8,468.6L45.1,468.6L45.3,468.6L45.5,468.6L45.8,468.6L46.0,468.6L46.3,468.6L46.5,468.6L46.8,468.6L47.0,468.6L47.2,468.6L47.5,468.6L47.7,468.6L48.0,468.6L48.2,468.6L48.4,468.6L48.7,468.6L48.9,468.5L49.2,468.5L49.4,468.5L49.7,468.5L49.9,468.5L50.1,468.5L50.4,468.5L50.6,468.5L50.9,468.5L51.1,468.5L51.3,468.5L51.6,468.5L51.8,468.5L52.1,468.5L52.3,468.5L52.6,468.5L52.8,468.5L53.0,468.5L53.3,468.5L53.5,468.5L53.8,468.5L54.0,468.5L54.2,468.5L54.5,468.5L54.7,468.5L55.0,468.5L55.2,468.5L55.5,468.5L55.7,468.5L55.9,468.5L56.2,468.5L56.4,468.5L56.7,468.5L56.9,468.5L57.1,468.6L57.4,468.6L57.6,468.6L57.9,468.6L58.1,468.6L58.4,468.6L58.6,468.6L58.8,468.6L59.1,468.6L59.3,468.6L59.6,468.6L59.8,468.6L60.0,468.6L60.3,468.6L60.5,468.6L60.8,468.6L61.0,468.6L61.3,468.6L61.5,468.6L61.7,468.6L62.0,468.7L62.2,468.7L62.5,468.7L62.7,468.7L62.9,468.7L63.2,468.7L63.4,468.7L63.7,468.7L63.9,468.7L64.2,468.7L64.4,468.7L64.6,468.7L64.9,468.8L65.1,468.8L65.4,468.8L65.6,468.8L65.8,468.8L66.1,468.8L66.3,468.8L66.6,468.8L66.8,468.8L67.1,468.8L67.3,468.9L67.5,468.9L67.8,468.9L68.0,468.9L68.3,468.9L68.5,468.9L68.7,468.9L69.0,468.9L69.2,468.9L69.5,469.0L69.7,469.0L70.0,469.0L70.2,469.0L70.4,469.0L70.7,469.0L70.9,469.0L71.2,469.0L71.4,469.0L71.6,469.0L71.9,469.1L72.1,469.1L72.4,469.1L72.6,469.1L72.9,469.1L73.1,469.1L73.3,469.1L73.6,469.1L73.8,469.1L74.1,469.1L74.3,469.1L74.5,469.1L74.8,469.2L75.0,469.2L75.3,469.2L75.5,469.2L75.8,469.2L76.0,469.2L76.2,469.2L76.5,469.2L76.7,469.2L77.0,469.2L77.2,469.2L77.4,469.2L77.7,469.2L77.9,469.2L78.2,469.2L78.4,469.2L78.7,469.2L78.9,469.2L79.1,469.2L79.4,469.2L79.6,469.2L79.9,469.2L80.1,469.2L80.3,469.1L80.6,469.1L80.8,469.1L81.1,469.1L81.3,469.1L81.6,469.1L81.8,469.1L82.0,469.1L82.3,469.1L82.5,469.0L82.8,469.0L83.0,469.0L83.2,469.0L83.5,469.0L83.7,469.0L84.0,468.9L84.2,468.9L84.5,468.9L84.7,468.9L84.9,468.8L85.2,468.8L85.4,468.8L85.7,468.8L85.9,468.7L86.1,468.7L86.4,468.7L86.6,468.7L86.9,468.6L87.1,468.6L87.4,468.6L87.6,468.5L87.8,468.5L88.1,468.5L88.3,468.4L88.6,468.4L88.8,468.4L89.0,468.3L89.3,468.3L89.5,468.3L89.8,468.2L90.0,468.2L90.3,468.2L90.5,468.1L90.7,468.1L91.0,468.1L91.2,468.0L91.5,468.0L91.7,468.0L91.9,467.9L92.2,467.9L92.4,467.9L92.7,467.8L92.9,467.8L93.2,467.8L93.4,467.7L93.6,467.7L93.9,467.7L94.1,467.7L94.4,467.6L94.6,467.6L94.8,467.6L95.1,467.5L95.3,467.5L95.6,467.5L95.8,467.5L96.1,467.5L96.3,467.5L96.5,467.4L96.8,467.4L97.0,467.4L97.3,467.4L97.5,467.4L97.7,467.4L98.0,467.4L98.2,467.4L98.5,467.4L98.7,467.4L98.9,467.4L99.2,467.4L99.4,467.4L99.7,467.4L99.9,467.4L100.2,467.5L100.4,467.5L100.6,467.5L100.9,467.5L101.1,467.6L101.4,467.6L101.6,467.6L101.8,467.7L102.1,467.7L102.3,467.7L102.6,467.8L102.8,467.8L103.1,467.9L103.3,467.9L103.5,468.0L103.8,468.1L104.0,468.1L104.3,468.2L104.5,468.2L104.7,468.3L105.0,468.4L105.2,468.5L105.5,468.5L105.7,468.6L106.0,468.7L106.2,468.8L106.4,468.9L106.7,468.9L106.9,469.0L107.2,469.1L107.4,469.2L107.6,469.3L107.9,469.4L108.1,469.5L108.4,469.6L108.6,469.7L108.9,469.8L109.1,469.9L109.3,470.0L109.6,470.1L109.8,470.2L110.1,470.2L110.3,470.3L110.5,470.4L110.8,470.5L111.0,470.6L111.3,470.7L111.5,470.8L111.8,470.9L112.0,471.0L112.2,471.0L112.5,471.1L112.7,471.2L113.0,471.2L113.2,471.3L113.4,471.4L113.7,471.4L113.9,471.5L114.2,471.5L114.4,471.6L114.7,471.6L114.9,471.6L115.1,471.7L115.4,471.7L115.6,471.7L115.9,471.7L116.1,471.7L116.3,471.7L116.6,471.7L116.8,471.7L117.1,471.6L117.3,471.6L117.6,471.6L117.8,471.5L118.0,471.5L118.3,471.4L118.5,471.3L118.8,471.2L119.0,471.1L119.2,471.1L119.5,470.9L119.7,470.8L120.0,470.7L120.2,470.6L120.5,470.5L120.7,470.3L120.9,470.2L121.2,470.0L121.4,469.8L121.7,469.7L121.9,469.5L122.1,469.3L122.4,469.1L122.6,468.9L122.9,468.7L123.1,468.5L123.4,468.3L123.6,468.1L123.8,467.9L124.1,467.6L124.3,467.4L124.6,467.2L124.8,466.9L125.0,466.7L125.3,466.5L125.5,466.2L125.8,466.0L126.0,465.8L126.3,465.5L126.5,465.3L126.7,465.1L127.0,464.9L127.2,464.6L127.5,464.4L127.7,464.2L127.9,464.0L128.2,463.8L128.4,463.6L128.7,463.5L128.9,463.3L129.2,463.2L129.4,463.0L129.6,462.9L129.9,462.8L130.1,462.7L130.4,462.6L130.6,462.5L130.8,462.4L131.1,462.4L131.3,462.4L131.6,462.4L131.8,462.4L132.1,462.4L132.3,462.5L132.5,462.5L132.8,462.6L133.0,462.7L133.3,462.9L133.5,463.0L133.7,463.2L134.0,463.4L134.2,463.6L134.5,463.8L134.7,464.1L135.0,464.4L135.2,464.7L135.4,465.0L135.7,465.3L135.9,465.7L136.2,466.0L136.4,466.4L136.6,466.8L136.9,467.2L137.1,467.7L137.4,468.1L137.6,468.6L137.9,469.0L138.1,469.5L138.3,470.0L138.6,470.5L138.8,471.0L139.1,471.5L139.3,472.0L139.5,472.5L139.8,473.0L140.0,473.5L140.3,473.9L140.5,474.4L140.8,474.9L141.0,475.4L141.2,475.8L141.5,476.2L141.7,476.7L142.0,477.1L142.2,477.4L142.4,477.8L142.7,478.1L142.9,478.5L143.2,478.7L143.4,479.0L143.7,479.2L143.9,479.4L144.1,479.6L144.4,479.7L144.6,479.8L144.9,479.9L145.1,479.9L145.3,479.9L145.6,479.9L145.8,479.8L146.1,479.7L146.3,479.5L146.6,479.3L146.8,479.0L147.0,478.7L147.3,478.4L147.5,478.0L147.8,477.6L148.0,477.1L148.2,476.6L148.5,476.0L148.7,475.5L149.0,474.8L149.2,474.2L149.5,473.4L149.7,472.7L149.9,471.9L150.2,471.1L150.4,470.3L150.7,469.4L150.9,468.5L151.1,467.6L151.4,466.7L151.6,465.7L151.9,464.8L152.1,463.8L152.4,462.8L152.6,461.8L152.8,460.8L153.1,459.9L153.3,458.9L153.6,458.0L153.8,457.1L154.0,456.2L154.3,455.3L154.5,454.5L154.8,453.7L155.0,453.0L155.3,452.3L155.5,451.7L155.7,451.1L156.0,450.6L156.2,450.2L156.5,449.9L156.7,449.6L156.9,449.4L157.2,449.3L157.4,449.3L157.7,449.4L157.9,449.6L158.2,449.9L158.4,450.3L158.6,450.8L158.9,451.4L159.1,452.1L159.4,452.9L159.6,453.7L159.8,454.7L160.1,455.8L160.3,456.9L160.6,458.1L160.8,459.4L161.1,460.8L161.3,462.2L161.5,463.6L161.8,465.1L162.0,466.7L162.3,468.3L162.5,469.9L162.7,471.5L163.0,473.1L163.2,474.7L163.5,476.3L163.7,477.9L163.9,479.5L164.2,481.0L164.4,482.5L164.7,483.9L164.9,485.2L165.2,486.5L165.4,487.7L165.6,488.9L165.9,489.9L166.1,490.9L166.4,491.8L166.6,492.6L166.8,493.2L167.1,493.8L167.3,494.3L167.6,494.6L167.8,494.8L168.1,494.9L168.3,494.9L168.5,494.8L168.8,494.5L169.0,494.1L169.3,493.6L169.5,493.0L169.7,492.2L170.0,491.3L170.2,490.3L170.5,489.1L170.7,487.8L171.0,486.4L171.2,484.9L171.4,483.2L171.7,481.4L171.9,479.5L172.2,477.4L172.4,475.3L172.6,473.1L172.9,470.7L173.1,468.3L173.4,465.8L173.6,463.3L173.9,460.7L174.1,458.1L174.3,455.5L174.6,453.0L174.8,450.4L175.1,447.9L175.3,445.5L175.5,443.1L175.8,440.9L176.0,438.9L176.3,437.0L176.5,435.3L176.8,433.8L177.0,432.6L177.2,431.6L177.5,430.8L177.7,430.4L178.0,430.2L178.2,430.3L178.4,430.8L178.7,431.5L178.9,432.6L179.2,433.9L179.4,435.6L179.7,437.5L179.9,439.7L180.1,442.1L180.4,444.8L180.6,447.7L180.9,450.7L181.1,453.9L181.3,457.2L181.6,460.5L181.8,463.9L182.1,467.4L182.3,470.8L182.6,474.2L182.8,477.5L183.0,480.8L183.3,483.9L183.5,486.9L183.8,489.7L184.0,492.3L184.2,494.8L184.5,497.0L184.7,499.1L185.0,500.9L185.2,502.5L185.5,503.9L185.7,505.1L185.9,506.1L186.2,506.8L186.4,507.4L186.7,507.7L186.9,507.8L187.1,507.7L187.4,507.3L187.6,506.8L187.9,506.0L188.1,504.9L188.4,503.7L188.6,502.2L188.8,500.4L189.1,498.4L189.3,496.1L189.6,493.6L189.8,490.8L190.0,487.7L190.3,484.4L190.5,480.9L190.8,477.2L191.0,473.2L191.3,469.1L191.5,464.8L191.7,460.5L192.0,456.1L192.2,451.7L192.5,447.4L192.7,443.2L192.9,439.1L193.2,435.3L193.4,431.8L193.7,428.6L193.9,425.9L194.2,423.5L194.4,421.7L194.6,420.4L194.9,419.7L195.1,419.5L195.4,420.0L195.6,421.0L195.8,422.6L196.1,424.8L196.3,427.4L196.6,430.6L196.8,434.1L197.1,438.0L197.3,442.3L197.5,446.7L197.8,451.3L198.0,456.1L198.3,460.8L198.5,465.5L198.7,470.2L199.0,474.6L199.2,478.9L199.5,482.9L199.7,486.7L200.0,490.1L200.2,493.3L200.4,496.1L200.7,498.6L200.9,500.7L201.2,502.5L201.4,504.0L201.6,505.3L201.9,506.2L202.1,506.8L202.4,507.1L202.6,507.2L202.9,507.0L203.1,506.5L203.3,505.7L203.6,504.6L203.8,503.3L204.1,501.6L204.3,499.6L204.5,497.3L204.8,494.6L205.0,491.6L205.3,488.3L205.5,484.7L205.8,480.8L206.0,476.6L206.2,472.3L206.5,467.8L206.7,463.3L207.0,458.7L207.2,454.2L207.4,449.8L207.7,445.7L207.9,441.9L208.2,438.5L208.4,435.5L208.7,433.0L208.9,431.1L209.1,429.9L209.4,429.2L209.6,429.2L209.9,429.8L210.1,431.1L210.3,432.9L210.6,435.3L210.8,438.1L211.1,441.3L211.3,444.9L211.6,448.7L211.8,452.6L212.0,456.7L212.3,460.7L212.5,464.7L212.8,468.6L213.0,472.3L213.2,475.7L213.5,479.0L213.7,481.9L214.0,484.5L214.2,486.8L214.5,488.8L214.7,490.4L214.9,491.8L215.2,492.8L215.4,493.6L215.7,494.0L215.9,494.2L216.1,494.1L216.4,493.7L216.6,493.0L216.9,492.0L217.1,490.8L217.4,489.3L217.6,487.5L217.8,485.5L218.1,483.2L218.3,480.7L218.6,478.0L218.8,475.2L219.0,472.3L219.3,469.3L219.5,466.4L219.8,463.5L220.0,460.7L220.3,458.0L220.5,455.7L220.7,453.6L221.0,451.8L221.2,450.4L221.5,449.4L221.7,448.8L221.9,448.6L222.2,448.8L222.4,449.4L222.7,450.3L222.9,451.6L223.2,453.1L223.4,454.9L223.6,456.8L223.9,458.9L224.1,461.0L224.4,463.2L224.6,465.3L224.8,467.4L225.1,469.4L225.3,471.2L225.6,472.9L225.8,474.5L226.0,475.8L226.3,477.0L226.5,477.9L226.8,478.7L227.0,479.2L227.3,479.6L227.5,479.7L227.7,479.7L228.0,479.4L228.2,479.0L228.5,478.4L228.7,477.7L228.9,476.8L229.2,475.8L229.4,474.7L229.7,473.5L229.9,472.2L230.2,471.0L230.4,469.7L230.6,468.4L230.9,467.3L231.1,466.1L231.4,465.1L231.6,464.3L231.8,463.5L232.1,462.9L232.3,462.5L232.6,462.2L232.8,462.2L233.1,462.2L233.3,462.4L233.5,462.8L233.8,463.2L234.0,463.8L234.3,464.4L234.5,465.1L234.7,465.8L235.0,466.5L235.2,467.3L235.5,468.0L235.7,468.6L236.0,469.3L236.2,469.8L236.4,470.3L236.7,470.8L236.9,471.1L237.2,471.4L237.4,471.6L237.6,471.7L237.9,471.7L238.1,471.6L238.4,471.5L238.6,471.3L238.9,471.1L239.1,470.8L239.3,470.5L239.6,470.1L239.8,469.8L240.1,469.4L240.3,469.1L240.5,468.8L240.8,468.4L241.0,468.2L241.3,467.9L241.5,467.7L241.8,467.5L242.0,467.4L242.2,467.3L242.5,467.3L242.7,467.3L243.0,467.4L243.2,467.5L243.4,467.6L243.7,467.7L243.9,467.8L244.2,468.0L244.4,468.1L244.7,468.3L244.9,468.5L245.1,468.6L245.4,468.7L245.6,468.9L245.9,469.0L246.1,469.0L246.3,469.1L246.6,469.1L246.8,469.2L247.1,469.2L247.3,469.2L247.6,469.1L247.8,469.1L248.0,469.1L248.3,469.0L248.5,468.9L248.8,468.9L249.0,468.8L249.2,468.8L249.5,468.7L249.7,468.7L250.0,468.6L250.2,468.6L250.5,468.5L250.7,468.5L250.9,468.5L251.2,468.5L251.4,468.5L251.7,468.5L251.9,468.5L252.1,468.5L252.4,468.6L252.6,468.6L252.9,468.6L253.1,468.6L253.4,468.6L253.6,468.7L253.8,468.7L254.1,468.7L254.3,468.7L254.6,468.7L254.8,468.7L676.7,468.7" fill="none" stroke="#000000" stroke-width="1.1" stroke-linejoin="round"/>
<path d="M32.3,518.6V0.5H677.0V518.6Z" fill="none" stroke="#262626" stroke-width="1" stroke-linejoin="miter"/>
<line x1="112.9" x2="112.9" y1="518.6" y2="512.1" stroke="#262626" stroke-width="1"/>
<line x1="112.9" x2="112.9" y1="0.5" y2="7.0" stroke="#262626" stroke-width="1"/>
<line x1="193.5" x2="193.5" y1="518.6" y2="512.1" stroke="#262626" stroke-width="1"/>
<line x1="193.5" x2="193.5" y1="0.5" y2="7.0" stroke="#262626" stroke-width="1"/>
<line x1="274.1" x2="274.1" y1="518.6" y2="512.1" stroke="#262626" stroke-width="1"/>
<line x1="274.1" x2="274.1" y1="0.5" y2="7.0" stroke="#262626" stroke-width="1"/>
<line x1="354.6" x2="354.6" y1="518.6" y2="512.1" stroke="#262626" stroke-width="1"/>
<line x1="354.6" x2="354.6" y1="0.5" y2="7.0" stroke="#262626" stroke-width="1"/>
<line x1="435.2" x2="435.2" y1="518.6" y2="512.1" stroke="#262626" stroke-width="1"/>
<line x1="435.2" x2="435.2" y1="0.5" y2="7.0" stroke="#262626" stroke-width="1"/>
<line x1="515.8" x2="515.8" y1="518.6" y2="512.1" stroke="#262626" stroke-width="1"/>
<line x1="515.8" x2="515.8" y1="0.5" y2="7.0" stroke="#262626" stroke-width="1"/>
<line x1="596.4" x2="596.4" y1="518.6" y2="512.1" stroke="#262626" stroke-width="1"/>
<line x1="596.4" x2="596.4" y1="0.5" y2="7.0" stroke="#262626" stroke-width="1"/>
<rect x="483" y="369.3" width="172" height="88.2" fill="#fff"/>
<line x1="489.5" x2="541.7" y1="387.3" y2="387.3" stroke="#ff0000" stroke-width="1.1" stroke-dasharray="9.1 4.7"/>
<line x1="489.5" x2="541.7" y1="414.1" y2="414.1" stroke="#0000ff" stroke-width="1.1" stroke-dasharray="6.8 2.6 1.8 2.6"/>
<line x1="489.5" x2="541.7" y1="440.9" y2="440.9" stroke="#000" stroke-width="1.1"/>
<g font-family="Liberation Serif, serif" fill="#000"><text x="31.9" y="541.6" font-size="16.5" text-anchor="middle" fill="#111" stroke="#111" stroke-width="0.25">-20</text>
<text x="112.5" y="541.6" font-size="16.5" text-anchor="middle" fill="#111" stroke="#111" stroke-width="0.25">-15</text>
<text x="193.1" y="541.6" font-size="16.5" text-anchor="middle" fill="#111" stroke="#111" stroke-width="0.25">-10</text>
<text x="273.7" y="541.6" font-size="16.5" text-anchor="middle" fill="#111" stroke="#111" stroke-width="0.25">-5</text>
<text x="354.3" y="541.6" font-size="16.5" text-anchor="middle" fill="#111" stroke="#111" stroke-width="0.25">0</text>
<text x="434.9" y="541.6" font-size="16.5" text-anchor="middle" fill="#111" stroke="#111" stroke-width="0.25">5</text>
<text x="515.5" y="541.6" font-size="16.5" text-anchor="middle" fill="#111" stroke="#111" stroke-width="0.25">10</text>
<text x="596.1" y="541.6" font-size="16.5" text-anchor="middle" fill="#111" stroke="#111" stroke-width="0.25">15</text>
<text x="676.6" y="541.6" font-size="16.5" text-anchor="middle" fill="#111" stroke="#111" stroke-width="0.25">20</text>
<text x="545.3" y="392.8" font-size="15.5" fill="#000" stroke="#000" stroke-width="0.2">Opposing shear</text>
<text x="545.3" y="419.6" font-size="15.5" fill="#000" stroke="#000" stroke-width="0.2">Following shear</text>
<text x="545.3" y="446.5" font-size="15.5" fill="#000" stroke="#000" stroke-width="0.2">No shear</text>
<text x="38.1" y="51.5" font-size="20.5" font-style="italic">t</text>
<text transform="translate(49.5,52.6) scale(1.3,1)" font-size="19">=</text>
<text x="62.9" y="51.5" font-size="17.6">20</text>
<text transform="translate(78.6,51.5) scale(1.37,1)" font-size="17.6" font-style="italic">T</text>
<text x="90.8" y="53.9" font-size="12.5">0</text>
<text x="38.1" y="151.8" font-size="20.5" font-style="italic">t</text>
<text transform="translate(49.5,152.9) scale(1.3,1)" font-size="19">=</text>
<text x="62.9" y="151.8" font-size="17.6">10</text>
<text transform="translate(78.6,151.8) scale(1.37,1)" font-size="17.6" font-style="italic">T</text>
<text x="90.8" y="154.2" font-size="12.5">0</text>
<text x="38.1" y="252.1" font-size="20.5" font-style="italic">t</text>
<text transform="translate(49.5,253.2) scale(1.3,1)" font-size="19">=</text>
<text x="62.9" y="252.1" font-size="17.6">0</text>
<text transform="translate(69.8,252.1) scale(1.37,1)" font-size="17.6" font-style="italic">T</text>
<text x="82.0" y="254.5" font-size="12.5">0</text>
<text x="38.1" y="352.4" font-size="20.5" font-style="italic">t</text>
<text transform="translate(49.5,353.5) scale(1.3,1)" font-size="19">=</text>
<text x="62.4" y="353.0" font-size="19">-</text>
<text x="68.3" y="352.4" font-size="17.6">10</text>
<text transform="translate(84.0,352.4) scale(1.37,1)" font-size="17.6" font-style="italic">T</text>
<text x="96.2" y="354.8" font-size="12.5">0</text>
<text x="38.1" y="452.7" font-size="20.5" font-style="italic">t</text>
<text transform="translate(49.5,453.8) scale(1.3,1)" font-size="19">=</text>
<text x="62.4" y="453.3" font-size="19">-</text>
<text x="68.3" y="452.7" font-size="17.6">20</text>
<text transform="translate(84.0,452.7) scale(1.37,1)" font-size="17.6" font-style="italic">T</text>
<text x="96.2" y="455.1" font-size="12.5">0</text>
<text x="335.7" y="563.6" font-size="20.6" font-style="italic">x</text>
<text x="346.5" y="568.6" font-size="30.3">/</text>
<text x="356.9" y="563.6" font-size="20.6" font-style="italic">λ</text>
<text x="366.3" y="566.0" font-size="14.5">0</text>
<text transform="translate(13.7,265.1) rotate(-90)" font-size="20.5" font-style="italic">ζ</text></g>
</svg>
</div></body></html>
